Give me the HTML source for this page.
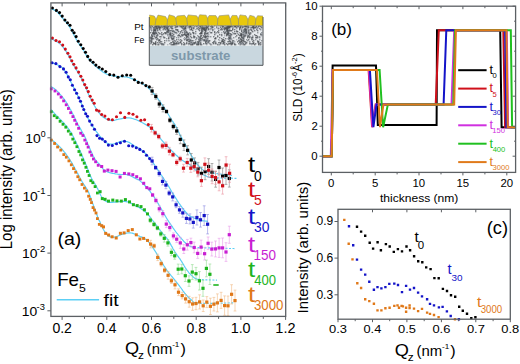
<!DOCTYPE html><html><head><meta charset="utf-8"><style>html,body{margin:0;padding:0;background:#fff;}svg{display:block;}text{font-family:"Liberation Sans", sans-serif;}</style></head><body>
<svg width="520" height="364" viewBox="0 0 520 364">
<rect width="520" height="364" fill="#fff"/>
<path d="M51.0,8.6 L51.4,8.8 L52.0,9.0 L52.6,9.3 L53.4,9.6 L54.2,9.9 L55.0,10.4 L55.8,10.9 L56.6,11.5 L57.4,12.2 L58.2,13.0 L59.0,13.9 L59.9,14.9 L60.7,15.9 L61.6,17.0 L62.5,18.0 L63.3,19.0 L64.1,20.0 L65.0,20.9 L65.8,21.9 L66.6,22.9 L67.4,23.9 L68.3,25.0 L69.1,26.2 L69.9,27.4 L70.7,28.8 L71.6,30.3 L72.4,31.9 L73.2,33.5 L74.0,35.2 L74.9,36.8 L75.7,38.3 L76.5,39.8 L77.3,41.2 L78.2,42.5 L79.0,43.8 L79.9,45.0 L80.7,46.2 L81.6,47.4 L82.4,48.6 L83.1,49.7 L83.8,50.8 L84.4,51.9 L85.1,53.0 L85.6,54.1 L86.2,55.1 L86.8,56.1 L87.4,57.1 L88.0,58.0 L88.6,58.8 L89.2,59.6 L89.8,60.3 L90.4,61.0 L91.0,61.7 L91.6,62.3 L92.3,63.0 L93.0,63.7 L93.7,64.4 L94.5,65.2 L95.3,65.9 L96.1,66.6 L96.9,67.4 L97.8,68.1 L98.7,68.8 L99.6,69.5 L100.6,70.2 L101.6,70.9 L102.6,71.7 L103.7,72.4 L104.8,73.1 L105.9,73.7 L107.0,74.3 L108.2,74.8 L109.4,75.2 L110.6,75.5 L111.8,75.7 L113.1,75.9 L114.3,76.1 L115.6,76.2 L116.9,76.4 L118.1,76.5 L119.3,76.6 L120.6,76.7 L121.8,76.7 L123.0,76.7 L124.3,76.8 L125.5,76.9 L126.8,77.0 L128.0,77.3 L129.3,77.7 L130.5,78.1 L131.8,78.6 L133.1,79.1 L134.3,79.7 L135.6,80.3 L136.8,80.9 L138.0,81.5 L139.2,82.1 L140.3,82.7 L141.4,83.2 L142.5,83.8 L143.6,84.5 L144.6,85.1 L145.6,85.8 L146.6,86.5 L147.5,87.2 L148.4,88.0 L149.2,88.8 L150.0,89.6 L150.8,90.4 L151.6,91.3 L152.4,92.2 L153.2,93.1 L154.0,94.0 L154.8,95.0 L155.7,96.0 L156.5,97.0 L157.3,98.1 L158.2,99.2 L159.0,100.3 L159.8,101.4 L160.6,102.6 L161.5,103.8 L162.3,105.1 L163.2,106.4 L164.0,107.6 L164.9,108.9 L165.7,110.1 L166.4,111.3 L167.1,112.4 L167.8,113.5 L168.4,114.5 L169.0,115.5 L169.6,116.6 L170.2,117.5 L170.8,118.5 L171.4,119.5 L172.0,120.5 L172.7,121.4 L173.3,122.4 L173.9,123.3 L174.6,124.2 L175.2,125.1 L175.7,126.1 L176.3,127.0 L176.8,128.0 L177.3,128.9 L177.7,129.8 L178.1,130.8 L178.6,131.8 L179.0,132.7 L179.5,133.8 L180.0,134.8 L180.6,135.9 L181.2,137.0 L181.8,138.1 L182.4,139.3 L183.1,140.5 L183.7,141.7 L184.4,142.8 L185.0,144.0 L185.6,145.2 L186.2,146.3 L186.9,147.5 L187.5,148.7 L188.1,149.9 L188.8,151.0 L189.4,152.1 L190.0,153.2 L190.6,154.3 L191.2,155.3 L191.9,156.3 L192.5,157.3 L193.1,158.2 L193.8,159.2 L194.4,160.1 L195.0,161.0 L195.6,161.9 L196.2,162.8 L196.9,163.6 L197.5,164.5 L198.1,165.3 L198.8,166.0 L199.4,166.7 L200.0,167.4 L200.6,168.0 L201.2,168.5 L201.9,169.0 L202.5,169.5 L203.1,169.9 L203.8,170.3 L204.4,170.7 L205.0,171.0 L205.6,171.3 L206.1,171.5 L206.7,171.7 L207.2,171.9 L207.8,172.0" stroke="#5ccff5" stroke-width="1.2" fill="none"/>
<path d="M206.1,171.5 L206.7,171.7 L207.2,171.9 L207.8,172.0 L208.4,172.2 L209.1,172.3 L210.0,172.5 L211.0,172.7 L212.1,172.9 L213.3,173.1 L214.6,173.2 L215.9,173.4 L217.2,173.6 L218.6,173.8 L220.0,174.0 L221.5,174.2 L223.1,174.4 L224.9,174.6 L226.6,174.8 L228.3,175.0 L229.8,175.2 L231.1,175.4 L232.0,175.5" stroke="#5ccff5" stroke-width="1.2" fill="none" stroke-dasharray="2,1.5"/>
<path d="M51.0,38.5 L51.7,38.9 L52.7,39.4 L53.8,40.0 L55.1,40.7 L56.4,41.4 L57.7,42.2 L58.9,43.0 L60.0,43.9 L60.9,44.8 L61.8,45.7 L62.7,46.6 L63.4,47.6 L64.2,48.7 L65.0,49.8 L65.8,50.9 L66.6,52.2 L67.4,53.6 L68.3,55.1 L69.1,56.7 L70.0,58.4 L70.8,60.1 L71.7,61.7 L72.5,63.2 L73.2,64.6 L73.9,65.8 L74.6,66.9 L75.2,68.0 L75.8,68.9 L76.4,69.9 L77.0,70.8 L77.6,71.8 L78.2,72.8 L78.8,73.8 L79.4,74.8 L79.9,75.8 L80.5,76.8 L81.1,77.8 L81.7,79.0 L82.3,80.2 L83.0,81.6 L83.7,83.2 L84.6,85.0 L85.4,87.0 L86.3,89.0 L87.2,91.0 L88.0,93.0 L88.8,94.9 L89.6,96.5 L90.3,98.0 L91.0,99.3 L91.6,100.5 L92.2,101.7 L92.8,102.8 L93.4,103.9 L94.0,104.9 L94.6,106.0 L95.3,107.1 L95.9,108.2 L96.6,109.3 L97.3,110.3 L98.0,111.3 L98.7,112.3 L99.3,113.2 L100.0,114.0 L100.6,114.7 L101.2,115.4 L101.8,115.9 L102.4,116.5 L103.0,116.9 L103.6,117.4 L104.2,117.8 L104.9,118.2 L105.6,118.6 L106.4,119.0 L107.2,119.4 L108.0,119.8 L108.8,120.1 L109.7,120.3 L110.6,120.5 L111.5,120.6 L112.5,120.6 L113.5,120.5 L114.5,120.3 L115.5,120.0 L116.6,119.7 L117.7,119.5 L118.8,119.2 L119.8,119.0 L120.8,118.8 L121.9,118.6 L122.9,118.4 L123.9,118.2 L124.9,118.0 L125.9,117.9 L127.0,117.8 L128.0,117.8 L129.0,117.9 L130.1,118.0 L131.1,118.2 L132.2,118.5 L133.2,118.8 L134.2,119.1 L135.3,119.4 L136.3,119.8 L137.3,120.2 L138.3,120.6 L139.4,121.1 L140.4,121.6 L141.4,122.1 L142.4,122.7 L143.5,123.3 L144.5,123.9 L145.6,124.5 L146.6,125.2 L147.7,125.9 L148.8,126.6 L149.9,127.3 L151.0,128.2 L152.1,129.0 L153.2,130.0 L154.3,131.1 L155.3,132.2 L156.3,133.5 L157.4,134.8 L158.4,136.1 L159.4,137.4 L160.5,138.7 L161.5,139.9 L162.6,141.1 L163.7,142.3 L164.8,143.6 L166.0,144.8 L167.1,145.9 L168.1,147.0 L169.1,148.1 L170.0,149.0 L170.8,149.8 L171.5,150.5 L172.1,151.2 L172.7,151.8 L173.3,152.3 L173.8,152.9 L174.4,153.4 L175.0,154.0 L175.6,154.6 L176.2,155.2 L176.9,155.8 L177.5,156.3 L178.1,156.9 L178.8,157.5 L179.4,158.0 L180.0,158.5 L180.6,159.0 L181.2,159.5 L181.9,159.9 L182.5,160.4 L183.1,160.8 L183.8,161.2 L184.4,161.6 L185.0,162.0 L185.6,162.4 L186.2,162.7 L186.9,163.0 L187.5,163.3 L188.1,163.6 L188.8,164.0 L189.4,164.4 L190.0,164.8 L190.6,165.3 L191.2,165.9 L191.9,166.5 L192.5,167.1 L193.1,167.7 L193.8,168.4 L194.4,169.0 L195.0,169.5 L195.6,170.0 L196.2,170.5 L196.9,171.0 L197.5,171.4 L198.1,171.9 L198.8,172.3 L199.4,172.7 L200.0,173.1 L200.6,173.5 L201.2,173.8 L201.9,174.1 L202.5,174.4 L203.1,174.7 L203.8,175.0 L204.4,175.2 L205.0,175.5 L205.6,175.8 L206.1,176.0 L206.7,176.3 L207.2,176.5 L207.8,176.7 L208.4,176.9 L209.1,177.1 L210.0,177.3 L211.0,177.4 L212.0,177.6" stroke="#5ccff5" stroke-width="1.2" fill="none"/>
<path d="M210.0,177.3 L211.0,177.4 L212.0,177.6 L213.1,177.7 L214.2,177.7 L215.5,177.8 L216.9,177.9 L218.4,177.9 L220.0,178.0 L221.9,178.1 L224.2,178.1 L226.6,178.2 L229.1,178.2 L231.6,178.2 L233.8,178.3 L235.6,178.3 L237.0,178.3" stroke="#5ccff5" stroke-width="1.2" fill="none" stroke-dasharray="2,1.5"/>
<path d="M51.0,62.2 L51.7,62.5 L52.7,62.9 L53.9,63.4 L55.2,63.9 L56.5,64.5 L57.8,65.0 L59.0,65.6 L60.0,66.2 L60.8,66.8 L61.5,67.3 L62.2,67.8 L62.8,68.4 L63.3,69.0 L63.9,69.7 L64.4,70.4 L65.0,71.2 L65.6,72.1 L66.2,73.1 L66.8,74.1 L67.4,75.2 L68.0,76.4 L68.6,77.6 L69.2,78.7 L69.8,79.9 L70.4,81.1 L71.0,82.3 L71.7,83.5 L72.3,84.8 L72.9,86.0 L73.6,87.3 L74.2,88.6 L74.8,89.8 L75.4,91.0 L76.0,92.2 L76.6,93.4 L77.3,94.6 L77.9,95.9 L78.5,97.1 L79.1,98.4 L79.7,99.7 L80.3,101.1 L80.9,102.5 L81.6,104.0 L82.2,105.5 L82.8,107.0 L83.5,108.5 L84.1,109.9 L84.7,111.3 L85.3,112.6 L85.9,113.9 L86.5,115.2 L87.1,116.4 L87.7,117.7 L88.3,118.9 L89.0,120.0 L89.6,121.2 L90.2,122.3 L90.9,123.4 L91.5,124.5 L92.2,125.5 L92.9,126.6 L93.6,127.6 L94.3,128.7 L95.0,129.7 L95.8,130.8 L96.6,131.8 L97.4,132.9 L98.2,134.0 L99.1,135.1 L99.9,136.1 L100.8,137.1 L101.6,138.0 L102.4,138.9 L103.2,139.7 L104.1,140.6 L104.9,141.4 L105.7,142.1 L106.5,142.7 L107.4,143.3 L108.2,143.7 L109.0,144.0 L109.9,144.2 L110.7,144.2 L111.5,144.2 L112.3,144.1 L113.2,144.0 L114.0,143.9 L114.8,143.7 L115.6,143.5 L116.5,143.2 L117.3,142.8 L118.1,142.5 L118.9,142.1 L119.7,141.7 L120.6,141.5 L121.4,141.3 L122.2,141.2 L123.0,141.2 L123.8,141.1 L124.6,141.2 L125.4,141.3 L126.2,141.5 L127.1,141.7 L128.0,142.0 L129.0,142.4 L130.1,143.0 L131.2,143.7 L132.3,144.4 L133.4,145.2 L134.5,145.9 L135.5,146.5 L136.3,147.0 L137.0,147.4 L137.5,147.6 L137.9,147.8 L138.3,147.9 L138.6,148.0 L139.0,148.2 L139.4,148.5 L140.0,148.9 L140.7,149.4 L141.4,150.0 L142.3,150.7 L143.1,151.4 L144.0,152.2 L144.9,153.0 L145.8,153.8 L146.6,154.7 L147.4,155.6 L148.2,156.6 L149.1,157.6 L149.9,158.6 L150.7,159.7 L151.5,160.8 L152.4,161.9 L153.2,163.0 L154.0,164.2 L154.8,165.4 L155.7,166.6 L156.5,167.9 L157.3,169.1 L158.2,170.4 L159.0,171.7 L159.8,172.9 L160.6,174.1 L161.4,175.3 L162.2,176.4 L163.0,177.6 L163.8,178.8 L164.6,180.1 L165.5,181.4 L166.4,182.8 L167.4,184.4 L168.4,186.0 L169.5,187.8 L170.6,189.7 L171.6,191.5 L172.7,193.3 L173.7,194.9 L174.7,196.5 L175.6,197.9 L176.5,199.3 L177.3,200.6 L178.1,201.8 L178.9,203.0 L179.7,204.1 L180.5,205.3 L181.3,206.4 L182.1,207.5 L183.0,208.7 L183.9,209.9 L184.8,211.0 L185.6,212.0 L186.5,213.0 L187.2,213.9 L187.9,214.6 L188.5,215.2 L189.0,215.6 L189.4,215.8 L189.8,216.0 L190.1,216.2 L190.5,216.3 L191.0,216.5 L191.6,216.8 L192.3,217.1 L193.0,217.5 L193.7,217.9 L194.5,218.3 L195.4,218.7 L196.3,219.1 L197.2,219.5 L198.2,219.8 L199.3,220.1 L200.7,220.3 L202.1,220.6 L203.5,220.8 L204.9,221.0 L206.2,221.1 L207.2,221.3 L208.0,221.4" stroke="#5ccff5" stroke-width="1.2" fill="none"/>
<path d="M51.0,86.5 L51.4,86.8 L52.0,87.2 L52.6,87.6 L53.4,88.1 L54.2,88.6 L55.0,89.2 L55.8,89.9 L56.6,90.6 L57.4,91.4 L58.2,92.2 L59.1,93.1 L59.9,94.1 L60.8,95.1 L61.6,96.1 L62.4,97.0 L63.2,98.0 L63.9,98.9 L64.6,99.8 L65.2,100.7 L65.8,101.6 L66.4,102.6 L67.0,103.5 L67.6,104.5 L68.2,105.5 L68.8,106.6 L69.4,107.6 L70.0,108.8 L70.7,109.9 L71.3,111.1 L71.9,112.2 L72.5,113.4 L73.1,114.6 L73.7,115.8 L74.3,117.0 L74.9,118.2 L75.4,119.4 L76.0,120.6 L76.6,121.9 L77.3,123.2 L78.0,124.5 L78.8,125.9 L79.6,127.4 L80.5,128.9 L81.3,130.4 L82.2,132.0 L83.1,133.6 L83.9,135.1 L84.7,136.6 L85.4,138.1 L86.0,139.5 L86.7,141.0 L87.3,142.5 L87.8,143.9 L88.4,145.3 L89.0,146.7 L89.6,148.1 L90.2,149.5 L90.8,150.9 L91.5,152.3 L92.1,153.6 L92.7,154.9 L93.3,156.2 L94.0,157.4 L94.6,158.5 L95.3,159.5 L95.9,160.4 L96.6,161.3 L97.3,162.0 L98.0,162.8 L98.7,163.5 L99.3,164.3 L100.0,165.0 L100.6,165.8 L101.2,166.5 L101.8,167.3 L102.4,168.1 L103.0,168.8 L103.6,169.4 L104.2,170.1 L104.9,170.6 L105.6,171.1 L106.4,171.5 L107.2,171.8 L108.0,172.1 L108.8,172.4 L109.7,172.6 L110.6,172.9 L111.5,173.1 L112.5,173.3 L113.5,173.5 L114.5,173.7 L115.5,173.9 L116.6,174.0 L117.7,174.2 L118.8,174.3 L119.8,174.4 L120.8,174.5 L121.9,174.5 L122.9,174.5 L123.9,174.4 L124.9,174.4 L125.9,174.5 L127.0,174.6 L128.0,174.8 L129.1,175.2 L130.2,175.6 L131.3,176.2 L132.4,176.8 L133.5,177.4 L134.5,177.9 L135.5,178.5 L136.3,178.9 L137.0,179.2 L137.5,179.4 L137.9,179.6 L138.3,179.7 L138.6,179.8 L139.0,180.0 L139.4,180.4 L140.0,180.8 L140.7,181.4 L141.4,182.1 L142.3,182.9 L143.1,183.7 L144.0,184.6 L144.9,185.5 L145.8,186.5 L146.6,187.4 L147.4,188.3 L148.2,189.3 L149.1,190.2 L149.9,191.2 L150.7,192.3 L151.5,193.3 L152.4,194.4 L153.2,195.6 L154.0,196.8 L154.8,198.1 L155.7,199.4 L156.5,200.8 L157.3,202.2 L158.2,203.6 L159.0,205.0 L159.8,206.4 L160.6,207.8 L161.5,209.3 L162.3,210.7 L163.1,212.2 L163.9,213.7 L164.8,215.1 L165.6,216.5 L166.4,217.9 L167.2,219.2 L168.1,220.6 L168.9,221.9 L169.8,223.2 L170.6,224.4 L171.5,225.6 L172.3,226.7 L173.0,227.8 L173.7,228.8 L174.3,229.7 L174.9,230.5 L175.5,231.3 L176.0,232.0 L176.6,232.8 L177.3,233.6 L178.0,234.5 L178.8,235.5 L179.6,236.5 L180.5,237.6 L181.4,238.7 L182.3,239.7 L183.2,240.7 L184.1,241.7 L185.0,242.5 L185.8,243.2 L186.5,243.9 L187.2,244.5 L187.9,245.1 L188.7,245.6 L189.5,246.0 L190.5,246.4 L191.6,246.8 L192.8,247.1 L194.0,247.3" stroke="#5ccff5" stroke-width="1.2" fill="none"/>
<path d="M194.0,247.3 L195.3,247.4 L196.7,247.5 L198.2,247.6 L200.1,247.6 L202.2,247.7 L204.8,247.8 L208.1,247.9 L212.1,248.0 L216.6,248.1 L221.2,248.3 L225.8,248.4 L230.0,248.5 L233.5,248.5 L236.0,248.6" stroke="#5ccff5" stroke-width="1.2" fill="none" stroke-dasharray="2,1.5"/>
<path d="M51.0,109.6 L51.6,110.2 L52.3,111.0 L53.2,112.0 L54.2,113.1 L55.3,114.3 L56.3,115.4 L57.4,116.5 L58.3,117.5 L59.2,118.4 L60.0,119.3 L60.9,120.1 L61.7,120.9 L62.5,121.8 L63.4,122.6 L64.2,123.5 L65.0,124.5 L65.8,125.5 L66.7,126.5 L67.5,127.6 L68.4,128.7 L69.2,129.8 L70.0,131.0 L70.8,132.1 L71.5,133.3 L72.2,134.5 L72.8,135.7 L73.5,136.9 L74.0,138.1 L74.6,139.4 L75.2,140.6 L75.8,141.9 L76.4,143.2 L77.0,144.5 L77.6,145.8 L78.3,147.1 L78.9,148.4 L79.5,149.8 L80.2,151.1 L80.8,152.5 L81.4,153.9 L82.0,155.3 L82.6,156.7 L83.2,158.1 L83.9,159.5 L84.5,161.0 L85.1,162.4 L85.7,163.9 L86.3,165.4 L86.9,166.9 L87.5,168.5 L88.2,170.1 L88.8,171.8 L89.4,173.4 L90.0,174.9 L90.7,176.4 L91.3,177.8 L91.9,179.1 L92.6,180.2 L93.2,181.3 L93.9,182.4 L94.6,183.4 L95.2,184.4 L95.9,185.5 L96.5,186.6 L97.1,187.8 L97.8,189.1 L98.4,190.5 L99.0,191.8 L99.6,193.1 L100.2,194.4 L100.8,195.5 L101.4,196.5 L102.0,197.4 L102.5,198.1 L103.1,198.8 L103.6,199.5 L104.2,200.0 L104.8,200.5 L105.4,200.9 L106.0,201.3 L106.7,201.6 L107.4,201.9 L108.1,202.0 L108.8,202.2 L109.5,202.2 L110.3,202.3 L111.1,202.3 L112.0,202.3 L112.9,202.3 L113.9,202.2 L114.9,202.1 L115.9,201.9 L116.9,201.8 L118.0,201.7 L119.0,201.6 L120.0,201.5 L121.0,201.5 L122.0,201.4 L123.0,201.4 L124.0,201.4 L125.0,201.5 L126.0,201.6 L127.0,201.8 L128.0,202.0 L129.1,202.4 L130.2,202.8 L131.3,203.4 L132.4,204.0 L133.5,204.6 L134.5,205.1 L135.5,205.7 L136.3,206.1 L137.0,206.4 L137.5,206.7 L137.9,206.8 L138.3,207.0 L138.6,207.2 L139.0,207.4 L139.4,207.6 L140.0,208.0 L140.7,208.5 L141.4,209.0 L142.3,209.5 L143.1,210.1 L144.0,210.8 L144.9,211.5 L145.8,212.2 L146.6,213.0 L147.4,213.9 L148.2,214.8 L149.0,215.7 L149.8,216.7 L150.6,217.8 L151.4,218.9 L152.3,220.0 L153.2,221.2 L154.2,222.4 L155.2,223.8 L156.3,225.2 L157.4,226.6 L158.4,228.0 L159.5,229.4 L160.5,230.8 L161.5,232.0 L162.4,233.1 L163.2,234.1 L164.1,235.0 L164.8,235.9 L165.6,236.8 L166.4,237.7 L167.2,238.8 L168.0,239.9 L168.8,241.2 L169.7,242.6 L170.5,244.1 L171.3,245.6 L172.2,247.1 L173.0,248.7 L173.9,250.1 L174.7,251.5 L175.5,252.8 L176.4,254.0 L177.2,255.3 L178.1,256.4 L178.9,257.6 L179.8,258.7 L180.5,259.9 L181.3,261.0 L182.0,262.1 L182.7,263.3 L183.4,264.4 L184.0,265.5 L184.6,266.5 L185.2,267.6 L185.9,268.6 L186.5,269.5 L187.1,270.4 L187.8,271.2 L188.4,272.0 L189.0,272.8 L189.6,273.5 L190.3,274.2 L191.0,274.9 L191.7,275.5 L192.4,276.1 L193.0,276.7 L193.6,277.2 L194.2,277.7 L194.9,278.2 L195.9,278.6 L197.0,279.0 L198.4,279.3" stroke="#5ccff5" stroke-width="1.2" fill="none"/>
<path d="M198.4,279.3 L200.3,279.5 L202.6,279.7 L205.3,279.9 L208.1,279.9 L210.9,280.0 L213.4,280.0 L215.5,280.1 L217.0,280.1" stroke="#5ccff5" stroke-width="1.2" fill="none" stroke-dasharray="2,1.5"/>
<path d="M51.0,139.0 L51.4,139.4 L52.0,139.9 L52.6,140.4 L53.4,141.1 L54.2,141.8 L55.0,142.5 L55.8,143.3 L56.6,144.0 L57.4,144.7 L58.2,145.5 L59.0,146.2 L59.8,147.0 L60.7,147.9 L61.5,148.7 L62.4,149.6 L63.2,150.6 L64.0,151.6 L64.9,152.6 L65.7,153.7 L66.5,154.8 L67.3,156.0 L68.2,157.2 L69.0,158.4 L69.8,159.7 L70.6,161.0 L71.5,162.4 L72.3,163.9 L73.2,165.4 L74.0,166.9 L74.8,168.4 L75.6,169.8 L76.4,171.2 L77.1,172.5 L77.9,173.9 L78.5,175.2 L79.2,176.4 L79.9,177.7 L80.6,179.0 L81.3,180.2 L82.0,181.5 L82.8,182.8 L83.5,184.0 L84.3,185.2 L85.1,186.4 L85.9,187.6 L86.7,188.9 L87.5,190.2 L88.2,191.6 L88.9,193.1 L89.5,194.7 L90.2,196.3 L90.8,198.0 L91.4,199.7 L92.0,201.4 L92.6,203.1 L93.2,204.8 L93.8,206.5 L94.5,208.3 L95.2,210.2 L95.8,212.0 L96.5,213.7 L97.1,215.3 L97.6,216.8 L98.1,218.0 L98.5,218.9 L98.7,219.5 L98.9,220.0 L99.1,220.3 L99.3,220.6 L99.4,220.9 L99.7,221.3 L100.0,222.0 L100.4,222.9 L100.8,223.9 L101.3,225.0 L101.8,226.1 L102.3,227.3 L102.9,228.5 L103.4,229.5 L104.0,230.5 L104.6,231.4 L105.2,232.3 L105.8,233.1 L106.4,233.9 L107.0,234.6 L107.7,235.3 L108.3,235.8 L109.0,236.3 L109.7,236.7 L110.4,236.9 L111.1,237.1 L111.8,237.2 L112.5,237.2 L113.3,237.2 L114.1,237.1 L115.0,237.0 L115.9,236.8 L117.0,236.4 L118.0,236.0 L119.1,235.5 L120.3,235.0 L121.4,234.5 L122.5,234.1 L123.5,233.8 L124.5,233.6 L125.5,233.4 L126.5,233.2 L127.5,233.0 L128.5,232.9 L129.4,232.9 L130.4,232.9 L131.3,233.0 L132.2,233.2 L133.0,233.4 L133.8,233.7 L134.6,234.0 L135.4,234.4 L136.2,234.8 L137.1,235.2 L138.0,235.6 L139.0,236.0 L140.1,236.5 L141.2,236.9 L142.3,237.4 L143.4,237.9 L144.5,238.5 L145.6,239.2 L146.6,239.9 L147.5,240.7 L148.4,241.6 L149.2,242.6 L150.0,243.7 L150.8,244.7 L151.6,245.9 L152.4,247.0 L153.2,248.2 L154.0,249.4 L154.8,250.7 L155.7,252.0 L156.5,253.4 L157.3,254.8 L158.2,256.2 L159.0,257.5 L159.8,258.9 L160.6,260.3 L161.5,261.6 L162.3,263.0 L163.1,264.4 L163.9,265.8 L164.8,267.1 L165.6,268.4 L166.4,269.6 L167.2,270.8 L168.1,271.8 L168.9,272.9 L169.7,273.9 L170.5,274.9 L171.3,275.9 L172.2,276.9 L173.0,277.9 L173.8,278.9 L174.7,280.0 L175.5,281.0 L176.4,282.1 L177.2,283.1 L178.0,284.1 L178.8,285.1 L179.6,286.1 L180.3,287.1 L181.0,288.0 L181.7,289.0 L182.3,289.9 L182.9,290.8 L183.6,291.7 L184.3,292.6 L185.0,293.5 L185.8,294.4 L186.6,295.3 L187.4,296.2 L188.3,297.1 L189.1,298.0 L190.0,298.8 L190.9,299.5 L191.7,300.2 L192.3,300.8 L192.7,301.3 L192.9,301.7 L193.2,302.1 L193.8,302.5 L194.7,302.8 L196.2,303.0" stroke="#5ccff5" stroke-width="1.2" fill="none"/>
<path d="M196.2,303.0 L198.4,303.2 L201.7,303.3 L206.1,303.3 L211.2,303.3 L216.6,303.2 L222.0,303.1 L226.9,303.0 L231.1,302.9 L234.0,302.9" stroke="#5ccff5" stroke-width="1.2" fill="none" stroke-dasharray="2,1.5"/>
<circle cx="52.4" cy="8.0" r="1.55" fill="#000000"/>
<circle cx="56.4" cy="10.4" r="1.55" fill="#000000"/>
<circle cx="59.5" cy="12.6" r="1.55" fill="#000000"/>
<circle cx="62.2" cy="16.1" r="1.55" fill="#000000"/>
<circle cx="64.9" cy="20.0" r="1.55" fill="#000000"/>
<circle cx="67.5" cy="22.8" r="1.55" fill="#000000"/>
<circle cx="70.0" cy="25.2" r="1.55" fill="#000000"/>
<circle cx="72.2" cy="30.2" r="1.55" fill="#000000"/>
<circle cx="74.1" cy="32.7" r="1.55" fill="#000000"/>
<circle cx="76.1" cy="36.6" r="1.55" fill="#000000"/>
<circle cx="78.3" cy="41.2" r="1.55" fill="#000000"/>
<circle cx="80.8" cy="44.8" r="1.55" fill="#000000"/>
<circle cx="83.2" cy="48.5" r="1.55" fill="#000000"/>
<circle cx="85.5" cy="52.3" r="1.55" fill="#000000"/>
<circle cx="87.7" cy="56.4" r="1.55" fill="#000000"/>
<circle cx="90.2" cy="60.1" r="1.55" fill="#000000"/>
<circle cx="93.1" cy="62.3" r="1.55" fill="#000000"/>
<circle cx="95.9" cy="65.1" r="1.55" fill="#000000"/>
<circle cx="99.0" cy="67.3" r="1.55" fill="#000000"/>
<circle cx="102.3" cy="69.0" r="1.55" fill="#000000"/>
<circle cx="105.8" cy="71.5" r="1.55" fill="#000000"/>
<circle cx="109.7" cy="74.6" r="1.55" fill="#000000"/>
<circle cx="113.8" cy="75.1" r="1.55" fill="#000000"/>
<circle cx="118.0" cy="77.2" r="1.55" fill="#000000"/>
<circle cx="122.3" cy="75.7" r="1.55" fill="#000000"/>
<circle cx="126.7" cy="75.0" r="1.55" fill="#000000"/>
<circle cx="130.7" cy="75.2" r="1.55" fill="#000000"/>
<circle cx="134.5" cy="79.8" r="1.55" fill="#000000"/>
<circle cx="138.3" cy="82.4" r="1.55" fill="#000000"/>
<circle cx="142.2" cy="83.0" r="1.55" fill="#000000"/>
<circle cx="145.9" cy="85.6" r="1.55" fill="#000000"/>
<circle cx="149.4" cy="86.9" r="1.55" fill="#000000"/>
<path d="M152.1,87.4V94.6M150.7,87.4h2.8M150.7,94.6h2.8" stroke="#808080" stroke-width="0.6" fill="none"/>
<rect x="150.5" y="89.4" width="3.2" height="3.2" fill="#000000"/>
<path d="M155.8,93.9V99.2M154.4,93.9h2.8M154.4,99.2h2.8" stroke="#808080" stroke-width="0.6" fill="none"/>
<rect x="154.2" y="94.9" width="3.2" height="3.2" fill="#000000"/>
<path d="M159.3,100.9V107.2M157.9,100.9h2.8M157.9,107.2h2.8" stroke="#808080" stroke-width="0.6" fill="none"/>
<rect x="157.7" y="102.4" width="3.2" height="3.2" fill="#000000"/>
<path d="M163.0,104.8V111.9M161.6,104.8h2.8M161.6,111.9h2.8" stroke="#808080" stroke-width="0.6" fill="none"/>
<rect x="161.4" y="106.8" width="3.2" height="3.2" fill="#000000"/>
<path d="M166.5,110.0V113.1M165.1,110.0h2.8M165.1,113.1h2.8" stroke="#808080" stroke-width="0.6" fill="none"/>
<rect x="164.9" y="109.9" width="3.2" height="3.2" fill="#000000"/>
<path d="M169.9,118.0V122.3M168.5,118.0h2.8M168.5,122.3h2.8" stroke="#808080" stroke-width="0.6" fill="none"/>
<rect x="168.3" y="118.6" width="3.2" height="3.2" fill="#000000"/>
<path d="M173.3,124.1V128.9M171.9,124.1h2.8M171.9,128.9h2.8" stroke="#808080" stroke-width="0.6" fill="none"/>
<rect x="171.7" y="124.9" width="3.2" height="3.2" fill="#000000"/>
<path d="M176.7,127.5V134.4M175.3,127.5h2.8M175.3,134.4h2.8" stroke="#808080" stroke-width="0.6" fill="none"/>
<rect x="175.1" y="129.4" width="3.2" height="3.2" fill="#000000"/>
<path d="M180.3,135.2V143.7M178.9,135.2h2.8M178.9,143.7h2.8" stroke="#808080" stroke-width="0.6" fill="none"/>
<rect x="178.7" y="137.8" width="3.2" height="3.2" fill="#000000"/>
<path d="M184.0,139.9V150.6M182.6,139.9h2.8M182.6,150.6h2.8" stroke="#808080" stroke-width="0.6" fill="none"/>
<rect x="182.4" y="143.7" width="3.2" height="3.2" fill="#000000"/>
<path d="M187.6,145.7V154.9M186.2,145.7h2.8M186.2,154.9h2.8" stroke="#808080" stroke-width="0.6" fill="none"/>
<rect x="186.0" y="148.7" width="3.2" height="3.2" fill="#000000"/>
<path d="M191.3,153.5V166.5M189.9,153.5h2.8M189.9,166.5h2.8" stroke="#808080" stroke-width="0.6" fill="none"/>
<rect x="189.7" y="158.4" width="3.2" height="3.2" fill="#000000"/>
<path d="M194.6,157.9V168.1M193.2,157.9h2.8M193.2,168.1h2.8" stroke="#808080" stroke-width="0.6" fill="none"/>
<rect x="193.0" y="161.4" width="3.2" height="3.2" fill="#000000"/>
<path d="M198.1,162.4V175.1M196.7,162.4h2.8M196.7,175.1h2.8" stroke="#808080" stroke-width="0.6" fill="none"/>
<rect x="196.5" y="167.1" width="3.2" height="3.2" fill="#000000"/>
<path d="M201.5,167.2V179.6M200.1,167.2h2.8M200.1,179.6h2.8" stroke="#808080" stroke-width="0.6" fill="none"/>
<rect x="199.9" y="171.8" width="3.2" height="3.2" fill="#000000"/>
<path d="M205.1,163.5V179.7M203.7,163.5h2.8M203.7,179.7h2.8" stroke="#808080" stroke-width="0.6" fill="none"/>
<rect x="203.5" y="170.0" width="3.2" height="3.2" fill="#000000"/>
<path d="M208.6,158.7V174.3M207.2,158.7h2.8M207.2,174.3h2.8" stroke="#808080" stroke-width="0.6" fill="none"/>
<rect x="207.0" y="164.9" width="3.2" height="3.2" fill="#000000"/>
<path d="M212.0,163.5V181.0M210.6,163.5h2.8M210.6,181.0h2.8" stroke="#808080" stroke-width="0.6" fill="none"/>
<rect x="210.4" y="170.6" width="3.2" height="3.2" fill="#000000"/>
<path d="M215.6,171.5V187.2M214.2,171.5h2.8M214.2,187.2h2.8" stroke="#808080" stroke-width="0.6" fill="none"/>
<rect x="214.0" y="177.8" width="3.2" height="3.2" fill="#000000"/>
<path d="M219.0,160.0V175.0M217.6,160.0h2.8M217.6,175.0h2.8" stroke="#808080" stroke-width="0.6" fill="none"/>
<rect x="217.4" y="165.9" width="3.2" height="3.2" fill="#000000"/>
<path d="M222.6,168.0V184.3M221.2,168.0h2.8M221.2,184.3h2.8" stroke="#808080" stroke-width="0.6" fill="none"/>
<rect x="221.0" y="174.6" width="3.2" height="3.2" fill="#000000"/>
<path d="M226.0,166.7V184.4M224.6,166.7h2.8M224.6,184.4h2.8" stroke="#808080" stroke-width="0.6" fill="none"/>
<rect x="224.4" y="173.9" width="3.2" height="3.2" fill="#000000"/>
<path d="M229.3,169.8V187.1M227.9,169.8h2.8M227.9,187.1h2.8" stroke="#808080" stroke-width="0.6" fill="none"/>
<rect x="227.7" y="176.9" width="3.2" height="3.2" fill="#000000"/>
<circle cx="52.4" cy="38.1" r="1.55" fill="#d0101a"/>
<circle cx="56.0" cy="40.5" r="1.55" fill="#d0101a"/>
<circle cx="59.5" cy="41.8" r="1.55" fill="#d0101a"/>
<circle cx="62.7" cy="45.1" r="1.55" fill="#d0101a"/>
<circle cx="65.3" cy="49.1" r="1.55" fill="#d0101a"/>
<circle cx="67.9" cy="53.3" r="1.55" fill="#d0101a"/>
<circle cx="70.0" cy="56.7" r="1.55" fill="#d0101a"/>
<circle cx="71.8" cy="60.7" r="1.55" fill="#d0101a"/>
<circle cx="73.8" cy="64.3" r="1.55" fill="#d0101a"/>
<circle cx="76.1" cy="67.9" r="1.55" fill="#d0101a"/>
<circle cx="78.6" cy="72.1" r="1.55" fill="#d0101a"/>
<circle cx="80.9" cy="76.2" r="1.55" fill="#d0101a"/>
<circle cx="82.8" cy="80.0" r="1.55" fill="#d0101a"/>
<circle cx="84.7" cy="84.6" r="1.55" fill="#d0101a"/>
<circle cx="86.6" cy="87.8" r="1.55" fill="#d0101a"/>
<circle cx="88.3" cy="91.6" r="1.55" fill="#d0101a"/>
<circle cx="90.2" cy="96.3" r="1.55" fill="#d0101a"/>
<circle cx="92.2" cy="100.1" r="1.55" fill="#d0101a"/>
<circle cx="94.2" cy="103.2" r="1.55" fill="#d0101a"/>
<circle cx="96.5" cy="110.1" r="1.55" fill="#d0101a"/>
<circle cx="99.0" cy="111.0" r="1.55" fill="#d0101a"/>
<circle cx="101.7" cy="114.5" r="1.55" fill="#d0101a"/>
<circle cx="104.9" cy="116.1" r="1.55" fill="#d0101a"/>
<circle cx="108.5" cy="119.2" r="1.55" fill="#d0101a"/>
<circle cx="112.4" cy="119.8" r="1.55" fill="#d0101a"/>
<circle cx="116.5" cy="116.7" r="1.55" fill="#d0101a"/>
<circle cx="120.5" cy="112.8" r="1.55" fill="#d0101a"/>
<circle cx="124.8" cy="117.4" r="1.55" fill="#d0101a"/>
<circle cx="128.9" cy="113.3" r="1.55" fill="#d0101a"/>
<circle cx="133.0" cy="114.3" r="1.55" fill="#d0101a"/>
<circle cx="136.9" cy="116.7" r="1.55" fill="#d0101a"/>
<circle cx="140.9" cy="120.3" r="1.55" fill="#d0101a"/>
<circle cx="144.6" cy="119.8" r="1.55" fill="#d0101a"/>
<circle cx="148.3" cy="124.6" r="1.55" fill="#d0101a"/>
<path d="M151.5,124.4V132.0M150.1,124.4h2.8M150.1,132.0h2.8" stroke="#eb93a0" stroke-width="0.6" fill="none"/>
<rect x="149.9" y="126.6" width="3.2" height="3.2" fill="#d0101a"/>
<path d="M155.1,131.0V134.9M153.7,131.0h2.8M153.7,134.9h2.8" stroke="#eb93a0" stroke-width="0.6" fill="none"/>
<rect x="153.5" y="131.3" width="3.2" height="3.2" fill="#d0101a"/>
<path d="M158.7,134.2V138.9M157.3,134.2h2.8M157.3,138.9h2.8" stroke="#eb93a0" stroke-width="0.6" fill="none"/>
<rect x="157.1" y="135.0" width="3.2" height="3.2" fill="#d0101a"/>
<path d="M162.4,143.4V148.4M161.0,143.4h2.8M161.0,148.4h2.8" stroke="#eb93a0" stroke-width="0.6" fill="none"/>
<rect x="160.8" y="144.3" width="3.2" height="3.2" fill="#d0101a"/>
<path d="M166.0,142.1V148.8M164.6,142.1h2.8M164.6,148.8h2.8" stroke="#eb93a0" stroke-width="0.6" fill="none"/>
<rect x="164.4" y="143.8" width="3.2" height="3.2" fill="#d0101a"/>
<path d="M169.4,147.4V154.9M168.0,147.4h2.8M168.0,154.9h2.8" stroke="#eb93a0" stroke-width="0.6" fill="none"/>
<rect x="167.8" y="149.6" width="3.2" height="3.2" fill="#d0101a"/>
<path d="M173.0,153.0V156.7M171.6,153.0h2.8M171.6,156.7h2.8" stroke="#eb93a0" stroke-width="0.6" fill="none"/>
<rect x="171.4" y="153.2" width="3.2" height="3.2" fill="#d0101a"/>
<path d="M176.7,159.8V165.0M175.3,159.8h2.8M175.3,165.0h2.8" stroke="#eb93a0" stroke-width="0.6" fill="none"/>
<rect x="175.1" y="160.8" width="3.2" height="3.2" fill="#d0101a"/>
<path d="M180.2,156.3V161.3M178.8,156.3h2.8M178.8,161.3h2.8" stroke="#eb93a0" stroke-width="0.6" fill="none"/>
<rect x="178.6" y="157.2" width="3.2" height="3.2" fill="#d0101a"/>
<path d="M183.5,164.3V172.1M182.1,164.3h2.8M182.1,172.1h2.8" stroke="#eb93a0" stroke-width="0.6" fill="none"/>
<rect x="181.9" y="166.6" width="3.2" height="3.2" fill="#d0101a"/>
<path d="M187.2,158.4V166.6M185.8,158.4h2.8M185.8,166.6h2.8" stroke="#eb93a0" stroke-width="0.6" fill="none"/>
<rect x="185.6" y="160.9" width="3.2" height="3.2" fill="#d0101a"/>
<path d="M190.8,164.1V172.4M189.4,164.1h2.8M189.4,172.4h2.8" stroke="#eb93a0" stroke-width="0.6" fill="none"/>
<rect x="189.2" y="166.6" width="3.2" height="3.2" fill="#d0101a"/>
<path d="M194.2,162.0V171.1M192.8,162.0h2.8M192.8,171.1h2.8" stroke="#eb93a0" stroke-width="0.6" fill="none"/>
<rect x="192.6" y="165.0" width="3.2" height="3.2" fill="#d0101a"/>
<path d="M197.8,167.4V176.8M196.4,167.4h2.8M196.4,176.8h2.8" stroke="#eb93a0" stroke-width="0.6" fill="none"/>
<rect x="196.2" y="170.5" width="3.2" height="3.2" fill="#d0101a"/>
<path d="M201.4,174.9V186.4M200.0,174.9h2.8M200.0,186.4h2.8" stroke="#eb93a0" stroke-width="0.6" fill="none"/>
<rect x="199.8" y="179.1" width="3.2" height="3.2" fill="#d0101a"/>
<path d="M204.9,157.9V170.6M203.5,157.9h2.8M203.5,170.6h2.8" stroke="#eb93a0" stroke-width="0.6" fill="none"/>
<rect x="203.3" y="162.7" width="3.2" height="3.2" fill="#d0101a"/>
<path d="M208.6,163.1V177.2M207.2,163.1h2.8M207.2,177.2h2.8" stroke="#eb93a0" stroke-width="0.6" fill="none"/>
<rect x="207.0" y="168.6" width="3.2" height="3.2" fill="#d0101a"/>
<path d="M212.1,169.0V183.7M210.7,169.0h2.8M210.7,183.7h2.8" stroke="#eb93a0" stroke-width="0.6" fill="none"/>
<rect x="210.5" y="174.8" width="3.2" height="3.2" fill="#d0101a"/>
<path d="M215.5,170.9V184.3M214.1,170.9h2.8M214.1,184.3h2.8" stroke="#eb93a0" stroke-width="0.6" fill="none"/>
<rect x="213.9" y="176.0" width="3.2" height="3.2" fill="#d0101a"/>
<path d="M219.1,173.0V190.8M217.7,173.0h2.8M217.7,190.8h2.8" stroke="#eb93a0" stroke-width="0.6" fill="none"/>
<rect x="217.5" y="180.3" width="3.2" height="3.2" fill="#d0101a"/>
<path d="M222.6,177.4V194.1M221.2,177.4h2.8M221.2,194.1h2.8" stroke="#eb93a0" stroke-width="0.6" fill="none"/>
<rect x="221.0" y="184.2" width="3.2" height="3.2" fill="#d0101a"/>
<path d="M226.1,156.7V173.3M224.7,156.7h2.8M224.7,173.3h2.8" stroke="#eb93a0" stroke-width="0.6" fill="none"/>
<rect x="224.5" y="163.4" width="3.2" height="3.2" fill="#d0101a"/>
<path d="M229.6,164.2V182.3M228.2,164.2h2.8M228.2,182.3h2.8" stroke="#eb93a0" stroke-width="0.6" fill="none"/>
<rect x="228.0" y="171.7" width="3.2" height="3.2" fill="#d0101a"/>
<circle cx="52.0" cy="62.7" r="1.55" fill="#1414c8"/>
<circle cx="55.9" cy="63.6" r="1.55" fill="#1414c8"/>
<circle cx="59.9" cy="66.6" r="1.55" fill="#1414c8"/>
<circle cx="63.5" cy="68.9" r="1.55" fill="#1414c8"/>
<circle cx="66.1" cy="72.2" r="1.55" fill="#1414c8"/>
<circle cx="68.3" cy="76.9" r="1.55" fill="#1414c8"/>
<circle cx="70.3" cy="79.7" r="1.55" fill="#1414c8"/>
<circle cx="72.4" cy="85.2" r="1.55" fill="#1414c8"/>
<circle cx="74.6" cy="89.7" r="1.55" fill="#1414c8"/>
<circle cx="76.6" cy="93.2" r="1.55" fill="#1414c8"/>
<circle cx="78.8" cy="97.8" r="1.55" fill="#1414c8"/>
<circle cx="80.5" cy="101.3" r="1.55" fill="#1414c8"/>
<circle cx="82.3" cy="106.0" r="1.55" fill="#1414c8"/>
<circle cx="83.8" cy="109.5" r="1.55" fill="#1414c8"/>
<circle cx="85.7" cy="113.8" r="1.55" fill="#1414c8"/>
<circle cx="87.5" cy="116.2" r="1.55" fill="#1414c8"/>
<circle cx="89.6" cy="121.1" r="1.55" fill="#1414c8"/>
<circle cx="92.0" cy="125.0" r="1.55" fill="#1414c8"/>
<circle cx="94.5" cy="129.3" r="1.55" fill="#1414c8"/>
<circle cx="97.0" cy="135.6" r="1.55" fill="#1414c8"/>
<circle cx="99.6" cy="138.2" r="1.55" fill="#1414c8"/>
<circle cx="102.3" cy="139.1" r="1.55" fill="#1414c8"/>
<circle cx="105.2" cy="141.6" r="1.55" fill="#1414c8"/>
<circle cx="108.4" cy="145.1" r="1.55" fill="#1414c8"/>
<circle cx="112.3" cy="145.5" r="1.55" fill="#1414c8"/>
<circle cx="116.5" cy="143.7" r="1.55" fill="#1414c8"/>
<circle cx="120.4" cy="142.7" r="1.55" fill="#1414c8"/>
<circle cx="124.5" cy="141.3" r="1.55" fill="#1414c8"/>
<circle cx="128.7" cy="145.8" r="1.55" fill="#1414c8"/>
<circle cx="132.6" cy="146.1" r="1.55" fill="#1414c8"/>
<circle cx="136.3" cy="147.8" r="1.55" fill="#1414c8"/>
<circle cx="139.8" cy="149.4" r="1.55" fill="#1414c8"/>
<circle cx="143.4" cy="151.5" r="1.55" fill="#1414c8"/>
<circle cx="146.5" cy="155.3" r="1.55" fill="#1414c8"/>
<circle cx="149.6" cy="158.6" r="1.55" fill="#1414c8"/>
<path d="M152.1,157.2V164.8M150.7,157.2h2.8M150.7,164.8h2.8" stroke="#8c8ce0" stroke-width="0.6" fill="none"/>
<rect x="150.5" y="159.4" width="3.2" height="3.2" fill="#1414c8"/>
<path d="M155.6,166.0V169.3M154.2,166.0h2.8M154.2,169.3h2.8" stroke="#8c8ce0" stroke-width="0.6" fill="none"/>
<rect x="154.0" y="166.0" width="3.2" height="3.2" fill="#1414c8"/>
<path d="M159.2,170.9V176.1M157.8,170.9h2.8M157.8,176.1h2.8" stroke="#8c8ce0" stroke-width="0.6" fill="none"/>
<rect x="157.6" y="171.9" width="3.2" height="3.2" fill="#1414c8"/>
<path d="M162.5,177.9V184.9M161.1,177.9h2.8M161.1,184.9h2.8" stroke="#8c8ce0" stroke-width="0.6" fill="none"/>
<rect x="160.9" y="179.8" width="3.2" height="3.2" fill="#1414c8"/>
<path d="M165.9,181.4V188.7M164.5,181.4h2.8M164.5,188.7h2.8" stroke="#8c8ce0" stroke-width="0.6" fill="none"/>
<rect x="164.3" y="183.5" width="3.2" height="3.2" fill="#1414c8"/>
<path d="M169.2,190.8V195.4M167.8,190.8h2.8M167.8,195.4h2.8" stroke="#8c8ce0" stroke-width="0.6" fill="none"/>
<rect x="167.6" y="191.5" width="3.2" height="3.2" fill="#1414c8"/>
<path d="M172.7,193.0V200.9M171.3,193.0h2.8M171.3,200.9h2.8" stroke="#8c8ce0" stroke-width="0.6" fill="none"/>
<rect x="171.1" y="195.3" width="3.2" height="3.2" fill="#1414c8"/>
<path d="M176.1,201.9V207.7M174.7,201.9h2.8M174.7,207.7h2.8" stroke="#8c8ce0" stroke-width="0.6" fill="none"/>
<rect x="174.5" y="203.2" width="3.2" height="3.2" fill="#1414c8"/>
<path d="M179.5,206.6V213.3M178.1,206.6h2.8M178.1,213.3h2.8" stroke="#8c8ce0" stroke-width="0.6" fill="none"/>
<rect x="177.9" y="208.3" width="3.2" height="3.2" fill="#1414c8"/>
<path d="M182.8,208.5V217.2M181.4,208.5h2.8M181.4,217.2h2.8" stroke="#8c8ce0" stroke-width="0.6" fill="none"/>
<rect x="181.2" y="211.3" width="3.2" height="3.2" fill="#1414c8"/>
<path d="M186.4,213.4V223.4M185.0,213.4h2.8M185.0,223.4h2.8" stroke="#8c8ce0" stroke-width="0.6" fill="none"/>
<rect x="184.8" y="216.8" width="3.2" height="3.2" fill="#1414c8"/>
<path d="M189.9,213.9V223.9M188.5,213.9h2.8M188.5,223.9h2.8" stroke="#8c8ce0" stroke-width="0.6" fill="none"/>
<rect x="188.3" y="217.3" width="3.2" height="3.2" fill="#1414c8"/>
<path d="M193.3,216.7V228.1M191.9,216.7h2.8M191.9,228.1h2.8" stroke="#8c8ce0" stroke-width="0.6" fill="none"/>
<rect x="191.7" y="220.8" width="3.2" height="3.2" fill="#1414c8"/>
<path d="M196.9,209.9V225.0M195.5,209.9h2.8M195.5,225.0h2.8" stroke="#8c8ce0" stroke-width="0.6" fill="none"/>
<rect x="195.3" y="215.9" width="3.2" height="3.2" fill="#1414c8"/>
<path d="M200.5,212.5V227.1M199.1,212.5h2.8M199.1,227.1h2.8" stroke="#8c8ce0" stroke-width="0.6" fill="none"/>
<rect x="198.9" y="218.2" width="3.2" height="3.2" fill="#1414c8"/>
<path d="M204.2,205.8V225.5M202.8,205.8h2.8M202.8,225.5h2.8" stroke="#8c8ce0" stroke-width="0.6" fill="none"/>
<rect x="202.6" y="214.0" width="3.2" height="3.2" fill="#1414c8"/>
<path d="M207.6,214.5V233.9M206.2,214.5h2.8M206.2,233.9h2.8" stroke="#8c8ce0" stroke-width="0.6" fill="none"/>
<rect x="206.0" y="222.6" width="3.2" height="3.2" fill="#1414c8"/>
<rect x="49.9" y="87.5" width="2.8" height="2.8" fill="#c81ed2"/>
<rect x="53.6" y="89.6" width="2.8" height="2.8" fill="#c81ed2"/>
<rect x="56.9" y="92.6" width="2.8" height="2.8" fill="#c81ed2"/>
<rect x="59.7" y="95.8" width="2.8" height="2.8" fill="#c81ed2"/>
<rect x="62.2" y="99.5" width="2.8" height="2.8" fill="#c81ed2"/>
<rect x="64.8" y="103.4" width="2.8" height="2.8" fill="#c81ed2"/>
<rect x="67.0" y="107.1" width="2.8" height="2.8" fill="#c81ed2"/>
<rect x="69.3" y="111.3" width="2.8" height="2.8" fill="#c81ed2"/>
<rect x="71.5" y="115.2" width="2.8" height="2.8" fill="#c81ed2"/>
<rect x="73.3" y="118.9" width="2.8" height="2.8" fill="#c81ed2"/>
<rect x="75.2" y="122.7" width="2.8" height="2.8" fill="#c81ed2"/>
<rect x="77.2" y="126.9" width="2.8" height="2.8" fill="#c81ed2"/>
<rect x="79.3" y="131.8" width="2.8" height="2.8" fill="#c81ed2"/>
<rect x="81.5" y="134.1" width="2.8" height="2.8" fill="#c81ed2"/>
<rect x="83.4" y="138.7" width="2.8" height="2.8" fill="#c81ed2"/>
<rect x="85.2" y="142.3" width="2.8" height="2.8" fill="#c81ed2"/>
<rect x="86.7" y="145.7" width="2.8" height="2.8" fill="#c81ed2"/>
<rect x="88.5" y="150.6" width="2.8" height="2.8" fill="#c81ed2"/>
<rect x="90.2" y="153.9" width="2.8" height="2.8" fill="#c81ed2"/>
<rect x="92.0" y="157.6" width="2.8" height="2.8" fill="#c81ed2"/>
<rect x="94.2" y="160.4" width="2.8" height="2.8" fill="#c81ed2"/>
<rect x="96.8" y="163.9" width="2.8" height="2.8" fill="#c81ed2"/>
<rect x="100.2" y="165.0" width="3.0" height="3.0" fill="#c81ed2"/>
<rect x="102.8" y="169.6" width="3.0" height="3.0" fill="#c81ed2"/>
<rect x="106.4" y="168.6" width="3.0" height="3.0" fill="#c81ed2"/>
<rect x="110.5" y="169.2" width="3.0" height="3.0" fill="#c81ed2"/>
<rect x="114.6" y="169.9" width="3.0" height="3.0" fill="#c81ed2"/>
<rect x="118.6" y="175.5" width="3.0" height="3.0" fill="#c81ed2"/>
<rect x="122.9" y="171.9" width="3.0" height="3.0" fill="#c81ed2"/>
<rect x="127.3" y="172.4" width="3.0" height="3.0" fill="#c81ed2"/>
<rect x="131.3" y="173.2" width="3.0" height="3.0" fill="#c81ed2"/>
<rect x="135.2" y="175.2" width="3.0" height="3.0" fill="#c81ed2"/>
<rect x="138.9" y="177.3" width="3.0" height="3.0" fill="#c81ed2"/>
<rect x="142.2" y="181.8" width="3.0" height="3.0" fill="#c81ed2"/>
<rect x="145.3" y="186.1" width="3.0" height="3.0" fill="#c81ed2"/>
<rect x="148.3" y="187.3" width="3.0" height="3.0" fill="#c81ed2"/>
<path d="M152.6,193.4V196.5M151.2,193.4h2.8M151.2,196.5h2.8" stroke="#e79ae9" stroke-width="0.6" fill="none"/>
<rect x="151.0" y="193.4" width="3.2" height="3.2" fill="#c81ed2"/>
<path d="M155.9,198.1V202.9M154.5,198.1h2.8M154.5,202.9h2.8" stroke="#e79ae9" stroke-width="0.6" fill="none"/>
<rect x="154.3" y="198.9" width="3.2" height="3.2" fill="#c81ed2"/>
<path d="M159.3,205.7V211.8M157.9,205.7h2.8M157.9,211.8h2.8" stroke="#e79ae9" stroke-width="0.6" fill="none"/>
<rect x="157.7" y="207.2" width="3.2" height="3.2" fill="#c81ed2"/>
<path d="M162.8,210.5V216.9M161.4,210.5h2.8M161.4,216.9h2.8" stroke="#e79ae9" stroke-width="0.6" fill="none"/>
<rect x="161.2" y="212.1" width="3.2" height="3.2" fill="#c81ed2"/>
<path d="M166.3,220.6V227.6M164.9,220.6h2.8M164.9,227.6h2.8" stroke="#e79ae9" stroke-width="0.6" fill="none"/>
<rect x="164.7" y="222.5" width="3.2" height="3.2" fill="#c81ed2"/>
<path d="M169.8,224.2V230.9M168.4,224.2h2.8M168.4,230.9h2.8" stroke="#e79ae9" stroke-width="0.6" fill="none"/>
<rect x="168.2" y="226.0" width="3.2" height="3.2" fill="#c81ed2"/>
<path d="M173.4,232.9V238.9M172.0,232.9h2.8M172.0,238.9h2.8" stroke="#e79ae9" stroke-width="0.6" fill="none"/>
<rect x="171.8" y="234.3" width="3.2" height="3.2" fill="#c81ed2"/>
<path d="M176.7,235.8V242.6M175.3,235.8h2.8M175.3,242.6h2.8" stroke="#e79ae9" stroke-width="0.6" fill="none"/>
<rect x="175.1" y="237.6" width="3.2" height="3.2" fill="#c81ed2"/>
<path d="M180.3,237.4V248.4M178.9,237.4h2.8M178.9,248.4h2.8" stroke="#e79ae9" stroke-width="0.6" fill="none"/>
<rect x="178.7" y="241.3" width="3.2" height="3.2" fill="#c81ed2"/>
<path d="M183.8,244.6V253.5M182.4,244.6h2.8M182.4,253.5h2.8" stroke="#e79ae9" stroke-width="0.6" fill="none"/>
<rect x="182.2" y="247.4" width="3.2" height="3.2" fill="#c81ed2"/>
<path d="M187.3,239.4V250.1M185.9,239.4h2.8M185.9,250.1h2.8" stroke="#e79ae9" stroke-width="0.6" fill="none"/>
<rect x="185.7" y="243.2" width="3.2" height="3.2" fill="#c81ed2"/>
<path d="M190.9,238.2V247.0M189.5,238.2h2.8M189.5,247.0h2.8" stroke="#e79ae9" stroke-width="0.6" fill="none"/>
<rect x="189.3" y="241.0" width="3.2" height="3.2" fill="#c81ed2"/>
<path d="M194.2,242.1V252.8M192.8,242.1h2.8M192.8,252.8h2.8" stroke="#e79ae9" stroke-width="0.6" fill="none"/>
<rect x="192.6" y="245.9" width="3.2" height="3.2" fill="#c81ed2"/>
<path d="M197.7,248.5V258.4M196.3,248.5h2.8M196.3,258.4h2.8" stroke="#e79ae9" stroke-width="0.6" fill="none"/>
<rect x="196.1" y="251.8" width="3.2" height="3.2" fill="#c81ed2"/>
<path d="M201.1,240.1V254.1M199.7,240.1h2.8M199.7,254.1h2.8" stroke="#e79ae9" stroke-width="0.6" fill="none"/>
<rect x="199.5" y="245.5" width="3.2" height="3.2" fill="#c81ed2"/>
<path d="M204.6,247.3V260.0M203.2,247.3h2.8M203.2,260.0h2.8" stroke="#e79ae9" stroke-width="0.6" fill="none"/>
<rect x="203.0" y="252.1" width="3.2" height="3.2" fill="#c81ed2"/>
<path d="M208.1,237.0V249.6M206.7,237.0h2.8M206.7,249.6h2.8" stroke="#e79ae9" stroke-width="0.6" fill="none"/>
<rect x="206.5" y="241.7" width="3.2" height="3.2" fill="#c81ed2"/>
<path d="M211.8,242.2V256.0M210.4,242.2h2.8M210.4,256.0h2.8" stroke="#e79ae9" stroke-width="0.6" fill="none"/>
<rect x="210.2" y="247.5" width="3.2" height="3.2" fill="#c81ed2"/>
<path d="M215.5,241.0V256.9M214.1,241.0h2.8M214.1,256.9h2.8" stroke="#e79ae9" stroke-width="0.6" fill="none"/>
<rect x="213.9" y="247.3" width="3.2" height="3.2" fill="#c81ed2"/>
<path d="M219.1,238.3V257.4M217.7,238.3h2.8M217.7,257.4h2.8" stroke="#e79ae9" stroke-width="0.6" fill="none"/>
<rect x="217.5" y="246.3" width="3.2" height="3.2" fill="#c81ed2"/>
<path d="M222.6,238.0V257.8M221.2,238.0h2.8M221.2,257.8h2.8" stroke="#e79ae9" stroke-width="0.6" fill="none"/>
<rect x="221.0" y="246.3" width="3.2" height="3.2" fill="#c81ed2"/>
<path d="M226.0,242.7V261.4M224.6,242.7h2.8M224.6,261.4h2.8" stroke="#e79ae9" stroke-width="0.6" fill="none"/>
<rect x="224.4" y="250.4" width="3.2" height="3.2" fill="#c81ed2"/>
<path d="M229.3,226.2V243.3M227.9,226.2h2.8M227.9,243.3h2.8" stroke="#e79ae9" stroke-width="0.6" fill="none"/>
<rect x="227.7" y="233.1" width="3.2" height="3.2" fill="#c81ed2"/>
<rect x="49.9" y="110.4" width="2.8" height="2.8" fill="#1eb41e"/>
<rect x="52.8" y="114.3" width="2.8" height="2.8" fill="#1eb41e"/>
<rect x="55.6" y="116.3" width="2.8" height="2.8" fill="#1eb41e"/>
<rect x="58.7" y="119.9" width="2.8" height="2.8" fill="#1eb41e"/>
<rect x="61.6" y="122.9" width="2.8" height="2.8" fill="#1eb41e"/>
<rect x="64.4" y="125.8" width="2.8" height="2.8" fill="#1eb41e"/>
<rect x="66.9" y="129.7" width="2.8" height="2.8" fill="#1eb41e"/>
<rect x="69.4" y="132.8" width="2.8" height="2.8" fill="#1eb41e"/>
<rect x="71.4" y="137.7" width="2.8" height="2.8" fill="#1eb41e"/>
<rect x="73.4" y="141.3" width="2.8" height="2.8" fill="#1eb41e"/>
<rect x="75.5" y="145.3" width="2.8" height="2.8" fill="#1eb41e"/>
<rect x="77.5" y="150.1" width="2.8" height="2.8" fill="#1eb41e"/>
<rect x="79.3" y="153.5" width="2.8" height="2.8" fill="#1eb41e"/>
<rect x="81.1" y="158.5" width="2.8" height="2.8" fill="#1eb41e"/>
<rect x="82.8" y="161.8" width="2.8" height="2.8" fill="#1eb41e"/>
<rect x="84.5" y="165.9" width="2.8" height="2.8" fill="#1eb41e"/>
<rect x="86.0" y="170.0" width="2.8" height="2.8" fill="#1eb41e"/>
<rect x="87.7" y="174.1" width="2.8" height="2.8" fill="#1eb41e"/>
<rect x="89.4" y="179.3" width="2.8" height="2.8" fill="#1eb41e"/>
<rect x="91.4" y="181.3" width="2.8" height="2.8" fill="#1eb41e"/>
<rect x="93.7" y="185.2" width="2.8" height="2.8" fill="#1eb41e"/>
<rect x="96.0" y="191.6" width="2.8" height="2.8" fill="#1eb41e"/>
<rect x="98.6" y="190.2" width="3.0" height="3.0" fill="#1eb41e"/>
<rect x="100.8" y="197.1" width="3.0" height="3.0" fill="#1eb41e"/>
<rect x="103.6" y="197.8" width="3.0" height="3.0" fill="#1eb41e"/>
<rect x="107.0" y="199.6" width="3.0" height="3.0" fill="#1eb41e"/>
<rect x="111.3" y="198.6" width="3.0" height="3.0" fill="#1eb41e"/>
<rect x="115.5" y="199.4" width="3.0" height="3.0" fill="#1eb41e"/>
<rect x="119.8" y="199.6" width="3.0" height="3.0" fill="#1eb41e"/>
<rect x="123.9" y="198.1" width="3.0" height="3.0" fill="#1eb41e"/>
<rect x="128.0" y="200.4" width="3.0" height="3.0" fill="#1eb41e"/>
<rect x="131.9" y="203.2" width="3.0" height="3.0" fill="#1eb41e"/>
<rect x="135.7" y="204.1" width="3.0" height="3.0" fill="#1eb41e"/>
<rect x="139.5" y="205.1" width="3.0" height="3.0" fill="#1eb41e"/>
<rect x="142.9" y="208.3" width="3.0" height="3.0" fill="#1eb41e"/>
<rect x="146.0" y="212.4" width="3.0" height="3.0" fill="#1eb41e"/>
<path d="M150.3,218.2V222.3M148.9,218.2h2.8M148.9,222.3h2.8" stroke="#8fdc8f" stroke-width="0.6" fill="none"/>
<rect x="148.7" y="218.6" width="3.2" height="3.2" fill="#1eb41e"/>
<path d="M154.0,222.6V226.3M152.6,222.6h2.8M152.6,226.3h2.8" stroke="#8fdc8f" stroke-width="0.6" fill="none"/>
<rect x="152.4" y="222.8" width="3.2" height="3.2" fill="#1eb41e"/>
<path d="M157.4,226.3V229.8M156.0,226.3h2.8M156.0,229.8h2.8" stroke="#8fdc8f" stroke-width="0.6" fill="none"/>
<rect x="155.8" y="226.4" width="3.2" height="3.2" fill="#1eb41e"/>
<path d="M160.8,231.8V236.1M159.4,231.8h2.8M159.4,236.1h2.8" stroke="#8fdc8f" stroke-width="0.6" fill="none"/>
<rect x="159.2" y="232.3" width="3.2" height="3.2" fill="#1eb41e"/>
<path d="M164.3,234.6V242.1M162.9,234.6h2.8M162.9,242.1h2.8" stroke="#8fdc8f" stroke-width="0.6" fill="none"/>
<rect x="162.7" y="236.7" width="3.2" height="3.2" fill="#1eb41e"/>
<path d="M167.9,239.6V246.1M166.5,239.6h2.8M166.5,246.1h2.8" stroke="#8fdc8f" stroke-width="0.6" fill="none"/>
<rect x="166.3" y="241.3" width="3.2" height="3.2" fill="#1eb41e"/>
<path d="M171.4,249.0V255.7M170.0,249.0h2.8M170.0,255.7h2.8" stroke="#8fdc8f" stroke-width="0.6" fill="none"/>
<rect x="169.8" y="250.7" width="3.2" height="3.2" fill="#1eb41e"/>
<path d="M174.7,252.5V259.2M173.3,252.5h2.8M173.3,259.2h2.8" stroke="#8fdc8f" stroke-width="0.6" fill="none"/>
<rect x="173.1" y="254.2" width="3.2" height="3.2" fill="#1eb41e"/>
<path d="M178.2,264.1V274.3M176.8,264.1h2.8M176.8,274.3h2.8" stroke="#8fdc8f" stroke-width="0.6" fill="none"/>
<rect x="176.6" y="267.6" width="3.2" height="3.2" fill="#1eb41e"/>
<path d="M181.8,264.3V273.8M180.4,264.3h2.8M180.4,273.8h2.8" stroke="#8fdc8f" stroke-width="0.6" fill="none"/>
<rect x="180.2" y="267.4" width="3.2" height="3.2" fill="#1eb41e"/>
<path d="M185.3,270.0V281.5M183.9,270.0h2.8M183.9,281.5h2.8" stroke="#8fdc8f" stroke-width="0.6" fill="none"/>
<rect x="183.7" y="274.1" width="3.2" height="3.2" fill="#1eb41e"/>
<path d="M189.0,275.8V286.3M187.6,275.8h2.8M187.6,286.3h2.8" stroke="#8fdc8f" stroke-width="0.6" fill="none"/>
<rect x="187.4" y="279.4" width="3.2" height="3.2" fill="#1eb41e"/>
<path d="M192.3,264.6V279.6M190.9,264.6h2.8M190.9,279.6h2.8" stroke="#8fdc8f" stroke-width="0.6" fill="none"/>
<rect x="190.7" y="270.5" width="3.2" height="3.2" fill="#1eb41e"/>
<path d="M196.0,267.4V280.1M194.6,267.4h2.8M194.6,280.1h2.8" stroke="#8fdc8f" stroke-width="0.6" fill="none"/>
<rect x="194.4" y="272.1" width="3.2" height="3.2" fill="#1eb41e"/>
<path d="M199.4,271.6V290.0M198.0,271.6h2.8M198.0,290.0h2.8" stroke="#8fdc8f" stroke-width="0.6" fill="none"/>
<rect x="197.8" y="279.2" width="3.2" height="3.2" fill="#1eb41e"/>
<path d="M203.0,280.2V296.3M201.6,280.2h2.8M201.6,296.3h2.8" stroke="#8fdc8f" stroke-width="0.6" fill="none"/>
<rect x="201.4" y="286.7" width="3.2" height="3.2" fill="#1eb41e"/>
<path d="M206.4,260.1V276.8M205.0,260.1h2.8M205.0,276.8h2.8" stroke="#8fdc8f" stroke-width="0.6" fill="none"/>
<rect x="204.8" y="266.8" width="3.2" height="3.2" fill="#1eb41e"/>
<path d="M209.9,264.0V284.5M208.5,264.0h2.8M208.5,284.5h2.8" stroke="#8fdc8f" stroke-width="0.6" fill="none"/>
<rect x="208.3" y="272.7" width="3.2" height="3.2" fill="#1eb41e"/>
<rect x="49.9" y="138.7" width="2.8" height="2.8" fill="#e07818"/>
<rect x="53.2" y="142.1" width="2.8" height="2.8" fill="#e07818"/>
<rect x="56.2" y="145.6" width="2.8" height="2.8" fill="#e07818"/>
<rect x="59.4" y="148.7" width="2.8" height="2.8" fill="#e07818"/>
<rect x="62.4" y="153.2" width="2.8" height="2.8" fill="#e07818"/>
<rect x="64.9" y="155.8" width="2.8" height="2.8" fill="#e07818"/>
<rect x="67.5" y="159.5" width="2.8" height="2.8" fill="#e07818"/>
<rect x="69.9" y="163.4" width="2.8" height="2.8" fill="#e07818"/>
<rect x="72.1" y="167.2" width="2.8" height="2.8" fill="#e07818"/>
<rect x="74.3" y="170.8" width="2.8" height="2.8" fill="#e07818"/>
<rect x="76.4" y="175.3" width="2.8" height="2.8" fill="#e07818"/>
<rect x="78.3" y="178.4" width="2.8" height="2.8" fill="#e07818"/>
<rect x="80.6" y="183.1" width="2.8" height="2.8" fill="#e07818"/>
<rect x="83.0" y="186.7" width="2.8" height="2.8" fill="#e07818"/>
<rect x="85.3" y="189.6" width="2.8" height="2.8" fill="#e07818"/>
<rect x="87.2" y="194.8" width="2.8" height="2.8" fill="#e07818"/>
<rect x="88.8" y="198.0" width="2.8" height="2.8" fill="#e07818"/>
<rect x="90.1" y="201.2" width="2.8" height="2.8" fill="#e07818"/>
<rect x="91.6" y="206.2" width="2.8" height="2.8" fill="#e07818"/>
<rect x="93.1" y="208.7" width="2.8" height="2.8" fill="#e07818"/>
<rect x="94.6" y="211.6" width="2.8" height="2.8" fill="#e07818"/>
<rect x="96.0" y="217.2" width="2.8" height="2.8" fill="#e07818"/>
<rect x="97.9" y="223.0" width="2.8" height="2.8" fill="#e07818"/>
<rect x="100.2" y="224.2" width="3.0" height="3.0" fill="#e07818"/>
<rect x="102.0" y="225.4" width="3.0" height="3.0" fill="#e07818"/>
<rect x="104.2" y="231.9" width="3.0" height="3.0" fill="#e07818"/>
<rect x="107.1" y="233.5" width="3.0" height="3.0" fill="#e07818"/>
<rect x="110.6" y="235.3" width="3.0" height="3.0" fill="#e07818"/>
<rect x="114.7" y="236.5" width="3.0" height="3.0" fill="#e07818"/>
<rect x="118.9" y="231.8" width="3.0" height="3.0" fill="#e07818"/>
<rect x="122.6" y="231.4" width="3.0" height="3.0" fill="#e07818"/>
<rect x="126.7" y="229.1" width="3.0" height="3.0" fill="#e07818"/>
<rect x="130.8" y="228.1" width="3.0" height="3.0" fill="#e07818"/>
<rect x="134.8" y="233.3" width="3.0" height="3.0" fill="#e07818"/>
<rect x="138.4" y="237.5" width="3.0" height="3.0" fill="#e07818"/>
<rect x="142.1" y="236.9" width="3.0" height="3.0" fill="#e07818"/>
<rect x="146.0" y="238.9" width="3.0" height="3.0" fill="#e07818"/>
<path d="M150.6,240.3V247.9M149.2,240.3h2.8M149.2,247.9h2.8" stroke="#f2bb85" stroke-width="0.6" fill="none"/>
<rect x="149.0" y="242.5" width="3.2" height="3.2" fill="#e07818"/>
<path d="M154.1,244.0V247.9M152.7,244.0h2.8M152.7,247.9h2.8" stroke="#f2bb85" stroke-width="0.6" fill="none"/>
<rect x="152.5" y="244.3" width="3.2" height="3.2" fill="#e07818"/>
<path d="M157.7,254.2V260.6M156.3,254.2h2.8M156.3,260.6h2.8" stroke="#f2bb85" stroke-width="0.6" fill="none"/>
<rect x="156.1" y="255.8" width="3.2" height="3.2" fill="#e07818"/>
<path d="M161.2,261.2V266.1M159.8,261.2h2.8M159.8,266.1h2.8" stroke="#f2bb85" stroke-width="0.6" fill="none"/>
<rect x="159.6" y="262.1" width="3.2" height="3.2" fill="#e07818"/>
<path d="M164.6,268.0V272.4M163.2,268.0h2.8M163.2,272.4h2.8" stroke="#f2bb85" stroke-width="0.6" fill="none"/>
<rect x="163.0" y="268.6" width="3.2" height="3.2" fill="#e07818"/>
<path d="M168.1,271.4V279.2M166.7,271.4h2.8M166.7,279.2h2.8" stroke="#f2bb85" stroke-width="0.6" fill="none"/>
<rect x="166.5" y="273.7" width="3.2" height="3.2" fill="#e07818"/>
<path d="M171.4,278.3V283.4M170.0,278.3h2.8M170.0,283.4h2.8" stroke="#f2bb85" stroke-width="0.6" fill="none"/>
<rect x="169.8" y="279.2" width="3.2" height="3.2" fill="#e07818"/>
<path d="M175.0,280.7V288.9M173.6,280.7h2.8M173.6,288.9h2.8" stroke="#f2bb85" stroke-width="0.6" fill="none"/>
<rect x="173.4" y="283.2" width="3.2" height="3.2" fill="#e07818"/>
<path d="M178.5,288.9V295.6M177.1,288.9h2.8M177.1,295.6h2.8" stroke="#f2bb85" stroke-width="0.6" fill="none"/>
<rect x="176.9" y="290.6" width="3.2" height="3.2" fill="#e07818"/>
<path d="M182.2,292.3V298.9M180.8,292.3h2.8M180.8,298.9h2.8" stroke="#f2bb85" stroke-width="0.6" fill="none"/>
<rect x="180.6" y="294.0" width="3.2" height="3.2" fill="#e07818"/>
<path d="M185.6,294.7V303.1M184.2,294.7h2.8M184.2,303.1h2.8" stroke="#f2bb85" stroke-width="0.6" fill="none"/>
<rect x="184.0" y="297.3" width="3.2" height="3.2" fill="#e07818"/>
<path d="M189.2,296.3V307.2M187.8,296.3h2.8M187.8,307.2h2.8" stroke="#f2bb85" stroke-width="0.6" fill="none"/>
<rect x="187.6" y="300.1" width="3.2" height="3.2" fill="#e07818"/>
<path d="M192.6,297.8V310.3M191.2,297.8h2.8M191.2,310.3h2.8" stroke="#f2bb85" stroke-width="0.6" fill="none"/>
<rect x="191.0" y="302.4" width="3.2" height="3.2" fill="#e07818"/>
<path d="M196.0,297.3V309.7M194.6,297.3h2.8M194.6,309.7h2.8" stroke="#f2bb85" stroke-width="0.6" fill="none"/>
<rect x="194.4" y="301.9" width="3.2" height="3.2" fill="#e07818"/>
<path d="M199.6,294.8V309.0M198.2,294.8h2.8M198.2,309.0h2.8" stroke="#f2bb85" stroke-width="0.6" fill="none"/>
<rect x="198.0" y="300.3" width="3.2" height="3.2" fill="#e07818"/>
<path d="M203.2,300.0V311.5M201.8,300.0h2.8M201.8,311.5h2.8" stroke="#f2bb85" stroke-width="0.6" fill="none"/>
<rect x="201.6" y="304.2" width="3.2" height="3.2" fill="#e07818"/>
<path d="M206.8,296.6V307.6M205.4,296.6h2.8M205.4,307.6h2.8" stroke="#f2bb85" stroke-width="0.6" fill="none"/>
<rect x="205.2" y="300.5" width="3.2" height="3.2" fill="#e07818"/>
<path d="M210.4,298.2V314.5M209.0,298.2h2.8M209.0,314.5h2.8" stroke="#f2bb85" stroke-width="0.6" fill="none"/>
<rect x="208.8" y="304.7" width="3.2" height="3.2" fill="#e07818"/>
<path d="M213.9,297.4V311.0M212.5,297.4h2.8M212.5,311.0h2.8" stroke="#f2bb85" stroke-width="0.6" fill="none"/>
<rect x="212.3" y="302.6" width="3.2" height="3.2" fill="#e07818"/>
<path d="M217.4,293.9V311.9M216.0,293.9h2.8M216.0,311.9h2.8" stroke="#f2bb85" stroke-width="0.6" fill="none"/>
<rect x="215.8" y="301.3" width="3.2" height="3.2" fill="#e07818"/>
<path d="M221.1,292.3V308.4M219.7,292.3h2.8M219.7,308.4h2.8" stroke="#f2bb85" stroke-width="0.6" fill="none"/>
<rect x="219.5" y="298.8" width="3.2" height="3.2" fill="#e07818"/>
<path d="M224.6,295.9V315.3M223.2,295.9h2.8M223.2,315.3h2.8" stroke="#f2bb85" stroke-width="0.6" fill="none"/>
<rect x="223.0" y="304.0" width="3.2" height="3.2" fill="#e07818"/>
<path d="M228.0,296.0V315.6M226.6,296.0h2.8M226.6,315.6h2.8" stroke="#f2bb85" stroke-width="0.6" fill="none"/>
<rect x="226.4" y="304.2" width="3.2" height="3.2" fill="#e07818"/>
<path d="M231.6,284.7V304.0M230.2,284.7h2.8M230.2,304.0h2.8" stroke="#f2bb85" stroke-width="0.6" fill="none"/>
<rect x="230.0" y="292.7" width="3.2" height="3.2" fill="#e07818"/>
<path d="M235.0,290.1V311.0M233.6,290.1h2.8M233.6,311.0h2.8" stroke="#f2bb85" stroke-width="0.6" fill="none"/>
<rect x="233.4" y="299.0" width="3.2" height="3.2" fill="#e07818"/>
<path d="M213.3,285H218.7" stroke="#1eb41e" stroke-width="1.6"/>
<rect x="50.9" y="2.9" width="234.8" height="313.5" fill="none" stroke="#5c6064" stroke-width="1.3"/>
<path d="M62.1,316.4v3.5M62.1,2.9v3.5M84.5,316.4v2.5M84.5,2.9v2.5M106.8,316.4v3.5M106.8,2.9v3.5M129.2,316.4v2.5M129.2,2.9v2.5M151.5,316.4v3.5M151.5,2.9v3.5M173.8,316.4v2.5M173.8,2.9v2.5M196.2,316.4v3.5M196.2,2.9v3.5M218.6,316.4v2.5M218.6,2.9v2.5M240.9,316.4v3.5M240.9,2.9v3.5M263.3,316.4v2.5M263.3,2.9v2.5M285.6,316.4v3.5M285.6,2.9v3.5M50.9,137.8h-3.5M50.9,195.5h-3.5M50.9,253.1h-3.5M50.9,310.8h-3.5" stroke="#5c6064" stroke-width="1" fill="none"/>
<text transform="translate(52.40,332.80) scale(0.9838,1)" font-size="14.3" fill="#000" >0.2</text>
<text transform="translate(97.11,332.80) scale(0.9682,1)" font-size="14.3" fill="#000" >0.4</text>
<text transform="translate(141.80,332.80) scale(0.9790,1)" font-size="14.3" fill="#000" >0.6</text>
<text transform="translate(186.50,332.80) scale(0.9787,1)" font-size="14.3" fill="#000" >0.8</text>
<text transform="translate(230.66,332.80) scale(1.0038,1)" font-size="14.3" fill="#000" >1.0</text>
<text transform="translate(275.35,332.80) scale(1.0127,1)" font-size="14.3" fill="#000" >1.2</text>
<text transform="translate(25.29,143.10) scale(1.0139,1)" font-size="13.7" fill="#000" >10</text>
<text transform="translate(40.66,136.80) scale(1.0337,1)" font-size="8.5" fill="#000" >0</text>
<text transform="translate(22.39,200.77) scale(1.0139,1)" font-size="13.7" fill="#000" >10</text>
<text transform="translate(37.08,194.47) scale(1.1086,1)" font-size="8.5" fill="#000" >-1</text>
<text transform="translate(22.09,258.44) scale(1.0139,1)" font-size="13.7" fill="#000" >10</text>
<text transform="translate(36.78,252.14) scale(1.1107,1)" font-size="8.5" fill="#000" >-2</text>
<text transform="translate(21.79,316.11) scale(1.0139,1)" font-size="13.7" fill="#000" >10</text>
<text transform="translate(36.58,309.81) scale(1.1019,1)" font-size="8.5" fill="#000" >-3</text>
<text transform="translate(12.30,249.23) rotate(-90) scale(0.9322,1)" font-size="16.1" fill="#000">Log intensity (arb. units)</text>
<text transform="translate(125.04,354.00) scale(1.1353,1)" font-size="16" fill="#000" >Q</text>
<text transform="translate(137.92,358.90) scale(1.0679,1)" font-size="11.2" fill="#000" >z</text>
<text transform="translate(146.67,353.80) scale(0.9631,1)" font-size="15.5" fill="#000" >(nm</text>
<text transform="translate(172.14,346.50) scale(1.0470,1)" font-size="7.8" fill="#000" >-1</text>
<text transform="translate(180.40,353.80) scale(1.0463,1)" font-size="15.5" fill="#000" >)</text>
<text transform="translate(57.39,245.00) scale(1.0251,1)" font-size="19.1" fill="#000" >(a)</text>
<text transform="translate(57.16,285.50) scale(1.0648,1)" font-size="17.6" fill="#000" >Fe</text>
<text transform="translate(79.11,292.20) scale(1.0456,1)" font-size="11.7" fill="#000" >5</text>
<path d="M56.7,299.7H99.1" stroke="#5ccff5" stroke-width="1.5"/>
<text transform="translate(103.52,305.70) scale(1.1717,1)" font-size="16.7" fill="#000" >fit</text>
<text transform="translate(247.91,172.30) scale(1.1335,1)" font-size="22.8" fill="#000" >t</text>
<text transform="translate(253.96,180.50) scale(1.0005,1)" font-size="13.8" fill="#000" >0</text>
<text transform="translate(247.91,197.00) scale(1.1335,1)" font-size="22.8" fill="#d0101a" >t</text>
<text transform="translate(253.94,205.30) scale(1.0087,1)" font-size="13.8" fill="#d0101a" >5</text>
<text transform="translate(247.91,224.00) scale(1.1335,1)" font-size="22.8" fill="#1414c8" >t</text>
<text transform="translate(253.97,231.70) scale(1.0080,1)" font-size="13.8" fill="#1414c8" >30</text>
<text transform="translate(247.91,252.00) scale(1.1335,1)" font-size="22.8" fill="#c81ed2" >t</text>
<text transform="translate(253.47,259.50) scale(0.9797,1)" font-size="13.8" fill="#c81ed2" >150</text>
<text transform="translate(247.91,276.50) scale(1.1335,1)" font-size="22.8" fill="#1eb41e" >t</text>
<text transform="translate(254.20,284.70) scale(0.9473,1)" font-size="13.8" fill="#1eb41e" >400</text>
<text transform="translate(247.91,302.20) scale(1.1335,1)" font-size="22.8" fill="#e07818" >t</text>
<text transform="translate(253.99,310.30) scale(0.9617,1)" font-size="13.8" fill="#e07818" >3000</text>
<rect x="149.3" y="45.6" width="113.7" height="19.7" fill="#c9d7df"/>
<rect x="149.3" y="25.3" width="113.7" height="20.3" fill="#e6e9ec"/>
<path d="M150.3,25.8h1M151.3,25.8h1M155.3,25.8h1M156.3,25.8h1M157.3,25.8h1M158.3,25.8h1M161.3,25.8h1M164.3,25.8h1M165.3,25.8h1M167.3,25.8h1M169.3,25.8h1M174.3,25.8h1M175.3,25.8h1M179.3,25.8h1M182.3,25.8h1M183.3,25.8h1M185.3,25.8h1M186.3,25.8h1M187.3,25.8h1M189.3,25.8h1M190.3,25.8h1M193.3,25.8h1M197.3,25.8h1M198.3,25.8h1M200.3,25.8h1M201.3,25.8h1M202.3,25.8h1M205.3,25.8h1M206.3,25.8h1M208.3,25.8h1M211.3,25.8h1M214.3,25.8h1M220.3,25.8h1M221.3,25.8h1M222.3,25.8h1M227.3,25.8h1M228.3,25.8h1M229.3,25.8h1M230.3,25.8h1M231.3,25.8h1M233.3,25.8h1M234.3,25.8h1M235.3,25.8h1M236.3,25.8h1M237.3,25.8h1M238.3,25.8h1M240.3,25.8h1M245.3,25.8h1M252.3,25.8h1M253.3,25.8h1M254.3,25.8h1M258.3,25.8h1M259.3,25.8h1M152.3,26.8h1M154.3,26.8h1M155.3,26.8h1M156.3,26.8h1M158.3,26.8h1M159.3,26.8h1M163.3,26.8h1M164.3,26.8h1M168.3,26.8h1M170.3,26.8h1M176.3,26.8h1M177.3,26.8h1M180.3,26.8h1M181.3,26.8h1M183.3,26.8h1M185.3,26.8h1M189.3,26.8h1M190.3,26.8h1M196.3,26.8h1M200.3,26.8h1M206.3,26.8h1M210.3,26.8h1M212.3,26.8h1M222.3,26.8h1M223.3,26.8h1M226.3,26.8h1M227.3,26.8h1M228.3,26.8h1M229.3,26.8h1M230.3,26.8h1M234.3,26.8h1M235.3,26.8h1M240.3,26.8h1M242.3,26.8h1M244.3,26.8h1M245.3,26.8h1M246.3,26.8h1M252.3,26.8h1M253.3,26.8h1M256.3,26.8h1M258.3,26.8h1M260.3,26.8h1M150.3,27.8h1M153.3,27.8h1M156.3,27.8h1M158.3,27.8h1M159.3,27.8h1M160.3,27.8h1M164.3,27.8h1M166.3,27.8h1M167.3,27.8h1M175.3,27.8h1M184.3,27.8h1M185.3,27.8h1M189.3,27.8h1M191.3,27.8h1M193.3,27.8h1M198.3,27.8h1M201.3,27.8h1M202.3,27.8h1M203.3,27.8h1M204.3,27.8h1M205.3,27.8h1M206.3,27.8h1M207.3,27.8h1M212.3,27.8h1M220.3,27.8h1M224.3,27.8h1M225.3,27.8h1M226.3,27.8h1M227.3,27.8h1M228.3,27.8h1M229.3,27.8h1M236.3,27.8h1M239.3,27.8h1M240.3,27.8h1M242.3,27.8h1M248.3,27.8h1M251.3,27.8h1M252.3,27.8h1M253.3,27.8h1M254.3,27.8h1M255.3,27.8h1M261.3,27.8h1M156.3,28.8h1M157.3,28.8h1M159.3,28.8h1M164.3,28.8h1M166.3,28.8h1M167.3,28.8h1M171.3,28.8h1M172.3,28.8h1M183.3,28.8h1M184.3,28.8h1M185.3,28.8h1M191.3,28.8h1M193.3,28.8h1M199.3,28.8h1M201.3,28.8h1M202.3,28.8h1M203.3,28.8h1M204.3,28.8h1M206.3,28.8h1M208.3,28.8h1M218.3,28.8h1M221.3,28.8h1M224.3,28.8h1M225.3,28.8h1M226.3,28.8h1M227.3,28.8h1M232.3,28.8h1M239.3,28.8h1M244.3,28.8h1M245.3,28.8h1M253.3,28.8h1M259.3,28.8h1M153.3,29.8h1M154.3,29.8h1M155.3,29.8h1M159.3,29.8h1M165.3,29.8h1M167.3,29.8h1M168.3,29.8h1M175.3,29.8h1M176.3,29.8h1M177.3,29.8h1M190.3,29.8h1M191.3,29.8h1M198.3,29.8h1M201.3,29.8h1M203.3,29.8h1M204.3,29.8h1M205.3,29.8h1M208.3,29.8h1M212.3,29.8h1M220.3,29.8h1M224.3,29.8h1M226.3,29.8h1M227.3,29.8h1M232.3,29.8h1M234.3,29.8h1M239.3,29.8h1M244.3,29.8h1M245.3,29.8h1M246.3,29.8h1M250.3,29.8h1M256.3,29.8h1M153.3,30.8h1M154.3,30.8h1M155.3,30.8h1M157.3,30.8h1M167.3,30.8h1M168.3,30.8h1M170.3,30.8h1M177.3,30.8h1M181.3,30.8h1M185.3,30.8h1M192.3,30.8h1M199.3,30.8h1M201.3,30.8h1M204.3,30.8h1M205.3,30.8h1M218.3,30.8h1M226.3,30.8h1M227.3,30.8h1M228.3,30.8h1M229.3,30.8h1M230.3,30.8h1M231.3,30.8h1M241.3,30.8h1M245.3,30.8h1M248.3,30.8h1M251.3,30.8h1M254.3,30.8h1M257.3,30.8h1M153.3,31.8h1M166.3,31.8h1M167.3,31.8h1M172.3,31.8h1M178.3,31.8h1M180.3,31.8h1M184.3,31.8h1M186.3,31.8h1M195.3,31.8h1M201.3,31.8h1M205.3,31.8h1M214.3,31.8h1M217.3,31.8h1M223.3,31.8h1M227.3,31.8h1M234.3,31.8h1M236.3,31.8h1M237.3,31.8h1M241.3,31.8h1M244.3,31.8h1M246.3,31.8h1M252.3,31.8h1M150.3,32.8h1M152.3,32.8h1M153.3,32.8h1M154.3,32.8h1M155.3,32.8h1M158.3,32.8h1M161.3,32.8h1M164.3,32.8h1M165.3,32.8h1M170.3,32.8h1M175.3,32.8h1M182.3,32.8h1M186.3,32.8h1M192.3,32.8h1M193.3,32.8h1M200.3,32.8h1M201.3,32.8h1M204.3,32.8h1M210.3,32.8h1M211.3,32.8h1M214.3,32.8h1M218.3,32.8h1M224.3,32.8h1M227.3,32.8h1M228.3,32.8h1M245.3,32.8h1M246.3,32.8h1M248.3,32.8h1M250.3,32.8h1M152.3,33.8h1M153.3,33.8h1M154.3,33.8h1M156.3,33.8h1M159.3,33.8h1M163.3,33.8h1M165.3,33.8h1M169.3,33.8h1M170.3,33.8h1M172.3,33.8h1M184.3,33.8h1M187.3,33.8h1M188.3,33.8h1M193.3,33.8h1M199.3,33.8h1M200.3,33.8h1M201.3,33.8h1M204.3,33.8h1M206.3,33.8h1M207.3,33.8h1M224.3,33.8h1M226.3,33.8h1M227.3,33.8h1M228.3,33.8h1M230.3,33.8h1M234.3,33.8h1M235.3,33.8h1M240.3,33.8h1M241.3,33.8h1M249.3,33.8h1M151.3,34.8h1M157.3,34.8h1M161.3,34.8h1M169.3,34.8h1M170.3,34.8h1M173.3,34.8h1M181.3,34.8h1M183.3,34.8h1M184.3,34.8h1M185.3,34.8h1M186.3,34.8h1M187.3,34.8h1M188.3,34.8h1M190.3,34.8h1M204.3,34.8h1M214.3,34.8h1M219.3,34.8h1M221.3,34.8h1M226.3,34.8h1M227.3,34.8h1M231.3,34.8h1M238.3,34.8h1M240.3,34.8h1M241.3,34.8h1M243.3,34.8h1M249.3,34.8h1M254.3,34.8h1M260.3,34.8h1M151.3,35.8h1M156.3,35.8h1M170.3,35.8h1M172.3,35.8h1M178.3,35.8h1M179.3,35.8h1M182.3,35.8h1M185.3,35.8h1M186.3,35.8h1M200.3,35.8h1M201.3,35.8h1M203.3,35.8h1M205.3,35.8h1M226.3,35.8h1M229.3,35.8h1M236.3,35.8h1M239.3,35.8h1M240.3,35.8h1M241.3,35.8h1M244.3,35.8h1M245.3,35.8h1M248.3,35.8h1M255.3,35.8h1M256.3,35.8h1M152.3,36.8h1M154.3,36.8h1M160.3,36.8h1M180.3,36.8h1M186.3,36.8h1M187.3,36.8h1M190.3,36.8h1M193.3,36.8h1M194.3,36.8h1M198.3,36.8h1M200.3,36.8h1M204.3,36.8h1M205.3,36.8h1M206.3,36.8h1M213.3,36.8h1M217.3,36.8h1M241.3,36.8h1M243.3,36.8h1M247.3,36.8h1M257.3,36.8h1M150.3,37.8h1M151.3,37.8h1M155.3,37.8h1M156.3,37.8h1M164.3,37.8h1M168.3,37.8h1M171.3,37.8h1M186.3,37.8h1M191.3,37.8h1M199.3,37.8h1M202.3,37.8h1M205.3,37.8h1M215.3,37.8h1M219.3,37.8h1M228.3,37.8h1M229.3,37.8h1M238.3,37.8h1M241.3,37.8h1M242.3,37.8h1M247.3,37.8h1M249.3,37.8h1M251.3,37.8h1M252.3,37.8h1M255.3,37.8h1M256.3,37.8h1M151.3,38.8h1M152.3,38.8h1M157.3,38.8h1M168.3,38.8h1M171.3,38.8h1M172.3,38.8h1M173.3,38.8h1M200.3,38.8h1M201.3,38.8h1M207.3,38.8h1M214.3,38.8h1M215.3,38.8h1M221.3,38.8h1M225.3,38.8h1M229.3,38.8h1M240.3,38.8h1M243.3,38.8h1M151.3,39.8h1M156.3,39.8h1M159.3,39.8h1M172.3,39.8h1M176.3,39.8h1M180.3,39.8h1M184.3,39.8h1M186.3,39.8h1M187.3,39.8h1M188.3,39.8h1M198.3,39.8h1M204.3,39.8h1M222.3,39.8h1M223.3,39.8h1M240.3,39.8h1M241.3,39.8h1M248.3,39.8h1M150.3,40.8h1M158.3,40.8h1M159.3,40.8h1M164.3,40.8h1M174.3,40.8h1M181.3,40.8h1M186.3,40.8h1M190.3,40.8h1M192.3,40.8h1M199.3,40.8h1M204.3,40.8h1M206.3,40.8h1M209.3,40.8h1M222.3,40.8h1M224.3,40.8h1M229.3,40.8h1M232.3,40.8h1M238.3,40.8h1M241.3,40.8h1M242.3,40.8h1M243.3,40.8h1M253.3,40.8h1M151.3,41.8h1M155.3,41.8h1M160.3,41.8h1M172.3,41.8h1M177.3,41.8h1M180.3,41.8h1M188.3,41.8h1M189.3,41.8h1M197.3,41.8h1M198.3,41.8h1M205.3,41.8h1M208.3,41.8h1M213.3,41.8h1M221.3,41.8h1M222.3,41.8h1M223.3,41.8h1M228.3,41.8h1M230.3,41.8h1M237.3,41.8h1M240.3,41.8h1M241.3,41.8h1M244.3,41.8h1M252.3,41.8h1M257.3,41.8h1M258.3,41.8h1M151.3,42.8h1M153.3,42.8h1M155.3,42.8h1M157.3,42.8h1M159.3,42.8h1M164.3,42.8h1M171.3,42.8h1M173.3,42.8h1M176.3,42.8h1M180.3,42.8h1M183.3,42.8h1M186.3,42.8h1M191.3,42.8h1M193.3,42.8h1M194.3,42.8h1M195.3,42.8h1M198.3,42.8h1M200.3,42.8h1M205.3,42.8h1M212.3,42.8h1M215.3,42.8h1M218.3,42.8h1M220.3,42.8h1M223.3,42.8h1M232.3,42.8h1M239.3,42.8h1M242.3,42.8h1M246.3,42.8h1M253.3,42.8h1M258.3,42.8h1M260.3,42.8h1M153.3,43.8h1M154.3,43.8h1M155.3,43.8h1M161.3,43.8h1M173.3,43.8h1M174.3,43.8h1M175.3,43.8h1M176.3,43.8h1M178.3,43.8h1M181.3,43.8h1M184.3,43.8h1M186.3,43.8h1M188.3,43.8h1M189.3,43.8h1M192.3,43.8h1M194.3,43.8h1M198.3,43.8h1M200.3,43.8h1M203.3,43.8h1M206.3,43.8h1M213.3,43.8h1M215.3,43.8h1M220.3,43.8h1M223.3,43.8h1M226.3,43.8h1M228.3,43.8h1M229.3,43.8h1M230.3,43.8h1M231.3,43.8h1M232.3,43.8h1M234.3,43.8h1M238.3,43.8h1M243.3,43.8h1M245.3,43.8h1M249.3,43.8h1M252.3,43.8h1M253.3,43.8h1M255.3,43.8h1M258.3,43.8h1M152.3,44.8h1M155.3,44.8h1M158.3,44.8h1M163.3,44.8h1M171.3,44.8h1M172.3,44.8h1M173.3,44.8h1M183.3,44.8h1M190.3,44.8h1M191.3,44.8h1M192.3,44.8h1M196.3,44.8h1M197.3,44.8h1M198.3,44.8h1M200.3,44.8h1M217.3,44.8h1M224.3,44.8h1M227.3,44.8h1M231.3,44.8h1M234.3,44.8h1M244.3,44.8h1M254.3,44.8h1M258.3,44.8h1M260.3,44.8h1" stroke="#101418" stroke-width="1" fill="none"/>
<path d="M149.3,25.8h1M163.3,25.8h1M166.3,25.8h1M171.3,25.8h1M177.3,25.8h1M180.3,25.8h1M181.3,25.8h1M184.3,25.8h1M191.3,25.8h1M192.3,25.8h1M195.3,25.8h1M199.3,25.8h1M204.3,25.8h1M218.3,25.8h1M225.3,25.8h1M239.3,25.8h1M241.3,25.8h1M244.3,25.8h1M246.3,25.8h1M247.3,25.8h1M248.3,25.8h1M250.3,25.8h1M251.3,25.8h1M256.3,25.8h1M150.3,26.8h1M157.3,26.8h1M160.3,26.8h1M161.3,26.8h1M162.3,26.8h1M165.3,26.8h1M166.3,26.8h1M167.3,26.8h1M171.3,26.8h1M172.3,26.8h1M175.3,26.8h1M182.3,26.8h1M188.3,26.8h1M194.3,26.8h1M199.3,26.8h1M202.3,26.8h1M207.3,26.8h1M208.3,26.8h1M211.3,26.8h1M216.3,26.8h1M231.3,26.8h1M232.3,26.8h1M237.3,26.8h1M238.3,26.8h1M243.3,26.8h1M247.3,26.8h1M248.3,26.8h1M255.3,26.8h1M154.3,27.8h1M155.3,27.8h1M157.3,27.8h1M162.3,27.8h1M165.3,27.8h1M170.3,27.8h1M171.3,27.8h1M181.3,27.8h1M182.3,27.8h1M200.3,27.8h1M211.3,27.8h1M216.3,27.8h1M222.3,27.8h1M247.3,27.8h1M250.3,27.8h1M257.3,27.8h1M153.3,28.8h1M154.3,28.8h1M155.3,28.8h1M163.3,28.8h1M182.3,28.8h1M196.3,28.8h1M197.3,28.8h1M205.3,28.8h1M210.3,28.8h1M223.3,28.8h1M228.3,28.8h1M157.3,29.8h1M163.3,29.8h1M183.3,29.8h1M184.3,29.8h1M202.3,29.8h1M206.3,29.8h1M221.3,29.8h1M222.3,29.8h1M229.3,29.8h1M241.3,29.8h1M243.3,29.8h1M248.3,29.8h1M251.3,29.8h1M260.3,29.8h1M151.3,30.8h1M169.3,30.8h1M171.3,30.8h1M172.3,30.8h1M173.3,30.8h1M202.3,30.8h1M212.3,30.8h1M236.3,30.8h1M243.3,30.8h1M244.3,30.8h1M246.3,30.8h1M155.3,31.8h1M168.3,31.8h1M173.3,31.8h1M174.3,31.8h1M202.3,31.8h1M225.3,31.8h1M226.3,31.8h1M228.3,31.8h1M243.3,31.8h1M245.3,31.8h1M248.3,31.8h1M156.3,32.8h1M166.3,32.8h1M167.3,32.8h1M168.3,32.8h1M174.3,32.8h1M176.3,32.8h1M180.3,32.8h1M184.3,32.8h1M185.3,32.8h1M187.3,32.8h1M189.3,32.8h1M205.3,32.8h1M207.3,32.8h1M216.3,32.8h1M225.3,32.8h1M232.3,32.8h1M239.3,32.8h1M242.3,32.8h1M243.3,32.8h1M257.3,32.8h1M261.3,32.8h1M155.3,33.8h1M179.3,33.8h1M190.3,33.8h1M195.3,33.8h1M205.3,33.8h1M229.3,33.8h1M233.3,33.8h1M237.3,33.8h1M245.3,33.8h1M246.3,33.8h1M248.3,33.8h1M250.3,33.8h1M260.3,33.8h1M153.3,34.8h1M154.3,34.8h1M162.3,34.8h1M167.3,34.8h1M178.3,34.8h1M182.3,34.8h1M228.3,34.8h1M230.3,34.8h1M242.3,34.8h1M261.3,34.8h1M152.3,35.8h1M157.3,35.8h1M171.3,35.8h1M177.3,35.8h1M181.3,35.8h1M188.3,35.8h1M193.3,35.8h1M197.3,35.8h1M207.3,35.8h1M217.3,35.8h1M221.3,35.8h1M228.3,35.8h1M230.3,35.8h1M243.3,35.8h1M247.3,35.8h1M151.3,36.8h1M156.3,36.8h1M159.3,36.8h1M163.3,36.8h1M171.3,36.8h1M173.3,36.8h1M174.3,36.8h1M203.3,36.8h1M207.3,36.8h1M208.3,36.8h1M210.3,36.8h1M229.3,36.8h1M230.3,36.8h1M235.3,36.8h1M244.3,36.8h1M248.3,36.8h1M249.3,36.8h1M252.3,36.8h1M259.3,36.8h1M149.3,37.8h1M163.3,37.8h1M173.3,37.8h1M176.3,37.8h1M178.3,37.8h1M184.3,37.8h1M188.3,37.8h1M193.3,37.8h1M194.3,37.8h1M196.3,37.8h1M200.3,37.8h1M204.3,37.8h1M223.3,37.8h1M230.3,37.8h1M233.3,37.8h1M239.3,37.8h1M243.3,37.8h1M257.3,37.8h1M259.3,37.8h1M150.3,38.8h1M153.3,38.8h1M166.3,38.8h1M185.3,38.8h1M196.3,38.8h1M199.3,38.8h1M228.3,38.8h1M230.3,38.8h1M238.3,38.8h1M242.3,38.8h1M251.3,38.8h1M158.3,39.8h1M178.3,39.8h1M189.3,39.8h1M190.3,39.8h1M195.3,39.8h1M199.3,39.8h1M200.3,39.8h1M202.3,39.8h1M203.3,39.8h1M206.3,39.8h1M218.3,39.8h1M228.3,39.8h1M243.3,39.8h1M246.3,39.8h1M251.3,39.8h1M252.3,39.8h1M255.3,39.8h1M259.3,39.8h1M151.3,40.8h1M166.3,40.8h1M168.3,40.8h1M187.3,40.8h1M189.3,40.8h1M191.3,40.8h1M200.3,40.8h1M203.3,40.8h1M205.3,40.8h1M207.3,40.8h1M208.3,40.8h1M214.3,40.8h1M221.3,40.8h1M233.3,40.8h1M239.3,40.8h1M247.3,40.8h1M257.3,40.8h1M261.3,40.8h1M150.3,41.8h1M161.3,41.8h1M173.3,41.8h1M175.3,41.8h1M195.3,41.8h1M199.3,41.8h1M206.3,41.8h1M214.3,41.8h1M227.3,41.8h1M229.3,41.8h1M232.3,41.8h1M239.3,41.8h1M243.3,41.8h1M245.3,41.8h1M249.3,41.8h1M170.3,42.8h1M174.3,42.8h1M178.3,42.8h1M179.3,42.8h1M190.3,42.8h1M197.3,42.8h1M207.3,42.8h1M208.3,42.8h1M213.3,42.8h1M219.3,42.8h1M224.3,42.8h1M230.3,42.8h1M231.3,42.8h1M240.3,42.8h1M245.3,42.8h1M150.3,43.8h1M160.3,43.8h1M162.3,43.8h1M169.3,43.8h1M177.3,43.8h1M193.3,43.8h1M196.3,43.8h1M197.3,43.8h1M205.3,43.8h1M209.3,43.8h1M222.3,43.8h1M240.3,43.8h1M241.3,43.8h1M250.3,43.8h1M251.3,43.8h1M259.3,43.8h1M157.3,44.8h1M161.3,44.8h1M162.3,44.8h1M174.3,44.8h1M181.3,44.8h1M184.3,44.8h1M201.3,44.8h1M210.3,44.8h1M219.3,44.8h1M235.3,44.8h1M240.3,44.8h1M243.3,44.8h1" stroke="#404850" stroke-width="1" fill="none"/>
<path d="M159.3,25.8h1M172.3,25.8h1M196.3,25.8h1M203.3,25.8h1M216.3,25.8h1M219.3,25.8h1M223.3,25.8h1M224.3,25.8h1M226.3,25.8h1M232.3,25.8h1M261.3,25.8h1M149.3,26.8h1M169.3,26.8h1M179.3,26.8h1M184.3,26.8h1M191.3,26.8h1M201.3,26.8h1M203.3,26.8h1M204.3,26.8h1M205.3,26.8h1M213.3,26.8h1M220.3,26.8h1M225.3,26.8h1M241.3,26.8h1M261.3,26.8h1M151.3,27.8h1M161.3,27.8h1M163.3,27.8h1M174.3,27.8h1M183.3,27.8h1M187.3,27.8h1M188.3,27.8h1M192.3,27.8h1M197.3,27.8h1M218.3,27.8h1M232.3,27.8h1M233.3,27.8h1M235.3,27.8h1M245.3,27.8h1M246.3,27.8h1M150.3,28.8h1M151.3,28.8h1M165.3,28.8h1M168.3,28.8h1M169.3,28.8h1M189.3,28.8h1M200.3,28.8h1M211.3,28.8h1M214.3,28.8h1M217.3,28.8h1M229.3,28.8h1M236.3,28.8h1M241.3,28.8h1M246.3,28.8h1M247.3,28.8h1M250.3,28.8h1M256.3,28.8h1M257.3,28.8h1M150.3,29.8h1M151.3,29.8h1M162.3,29.8h1M185.3,29.8h1M189.3,29.8h1M195.3,29.8h1M210.3,29.8h1M213.3,29.8h1M249.3,29.8h1M253.3,29.8h1M160.3,30.8h1M166.3,30.8h1M176.3,30.8h1M182.3,30.8h1M183.3,30.8h1M184.3,30.8h1M206.3,30.8h1M224.3,30.8h1M154.3,31.8h1M169.3,31.8h1M209.3,31.8h1M169.3,32.8h1M208.3,32.8h1M221.3,32.8h1M223.3,32.8h1M244.3,32.8h1M249.3,32.8h1M160.3,33.8h1M161.3,33.8h1M166.3,33.8h1M171.3,33.8h1M176.3,33.8h1M185.3,33.8h1M186.3,33.8h1M202.3,33.8h1M215.3,33.8h1M243.3,33.8h1M244.3,33.8h1M152.3,34.8h1M168.3,34.8h1M200.3,34.8h1M205.3,34.8h1M208.3,34.8h1M244.3,34.8h1M245.3,34.8h1M247.3,34.8h1M154.3,35.8h1M167.3,35.8h1M169.3,35.8h1M224.3,35.8h1M252.3,35.8h1M261.3,35.8h1M150.3,36.8h1M161.3,36.8h1M168.3,36.8h1M169.3,36.8h1M170.3,36.8h1M172.3,36.8h1M188.3,36.8h1M199.3,36.8h1M228.3,36.8h1M242.3,36.8h1M250.3,36.8h1M170.3,37.8h1M187.3,37.8h1M198.3,37.8h1M155.3,38.8h1M160.3,38.8h1M183.3,38.8h1M186.3,38.8h1M188.3,38.8h1M189.3,38.8h1M198.3,38.8h1M205.3,38.8h1M206.3,38.8h1M227.3,38.8h1M231.3,38.8h1M150.3,39.8h1M157.3,39.8h1M171.3,39.8h1M173.3,39.8h1M205.3,39.8h1M207.3,39.8h1M229.3,39.8h1M230.3,39.8h1M231.3,39.8h1M236.3,39.8h1M239.3,39.8h1M242.3,39.8h1M149.3,40.8h1M169.3,40.8h1M173.3,40.8h1M175.3,40.8h1M179.3,40.8h1M193.3,40.8h1M198.3,40.8h1M201.3,40.8h1M219.3,40.8h1M158.3,41.8h1M190.3,41.8h1M191.3,41.8h1M207.3,41.8h1M215.3,41.8h1M234.3,41.8h1M150.3,42.8h1M189.3,42.8h1M192.3,42.8h1M233.3,42.8h1M241.3,42.8h1M249.3,42.8h1M257.3,42.8h1M158.3,43.8h1M163.3,43.8h1M170.3,43.8h1M190.3,43.8h1M191.3,43.8h1M199.3,43.8h1M210.3,43.8h1M216.3,43.8h1M224.3,43.8h1M242.3,43.8h1M260.3,43.8h1M167.3,44.8h1M170.3,44.8h1M175.3,44.8h1M176.3,44.8h1M188.3,44.8h1M206.3,44.8h1M211.3,44.8h1M218.3,44.8h1M230.3,44.8h1M239.3,44.8h1M242.3,44.8h1M251.3,44.8h1M259.3,44.8h1" stroke="#7c848c" stroke-width="1" fill="none"/>
<clipPath id="ci"><rect x="149.3" y="10" width="113.7" height="60"/></clipPath>
<path d="M147.3,25.6 L147.3,19.0 L149.3,15.0 L154.3,16.0 L156.1,19.2 L158.0,15.1 L165.5,16.5 L167.5,19.7 L169.1,14.8 L174.3,16.2 L175.7,18.1 L177.4,15.9 L184.6,15.3 L186.7,18.3 L188.2,14.9 L196.6,15.8 L198.2,18.1 L199.7,14.8 L206.1,15.2 L207.6,18.2 L209.2,15.5 L215.8,15.6 L217.8,18.7 L219.3,15.8 L228.7,14.9 L230.1,19.2 L232.2,15.4 L236.8,15.5 L238.4,19.2 L240.0,14.9 L246.0,15.7 L248.0,19.5 L249.9,15.3 L254.2,16.4 L256.0,18.7 L257.6,15.7 L264.0,16.1 L265.0,25.6Z" fill="#e8c80c" stroke="#8f8f80" stroke-width="0.6" clip-path="url(#ci)"/>
<path d="M147.3,19.0 L148.6,25.4 M156.1,19.2 L155.0,25.4 M167.5,19.7 L167.1,25.4 M175.7,18.1 L176.8,25.4 M186.7,18.3 L187.6,25.4 M198.2,18.1 L198.5,25.4 M207.6,18.2 L208.1,25.4 M217.8,18.7 L217.4,25.4 M230.1,19.2 L231.4,25.4 M238.4,19.2 L238.6,25.4 M248.0,19.5 L247.7,25.4 M256.0,18.7 L255.1,25.4 " stroke="#8f8f80" stroke-width="0.7" fill="none" clip-path="url(#ci)"/>
<path d="M149.3,17 V65.3 H263.0 V17" fill="none" stroke="#505458" stroke-width="1"/>
<text transform="translate(171.04,59.50) scale(1.0153,1)" font-size="13" fill="#7e98aa" font-weight="bold" >substrate</text>
<text transform="translate(134.19,30.40) scale(1.0228,1)" font-size="9.6" fill="#000" >Pt</text>
<text transform="translate(134.29,43.40) scale(0.8826,1)" font-size="9.8" fill="#000" >Fe</text>
<clipPath id="cb"><rect x="322.5" y="6.2" width="193.1" height="166.2"/></clipPath>
<path d="M322.5,156.2 L331.7,156.2 L332.6,65.4 L376.0,65.4 L377.8,125.1 L436.6,125.1 L437.0,30.2 L500.2,30.2 L501.6,127.2 L520.0,127.2" stroke="#000000" stroke-width="2" fill="none" clip-path="url(#cb)" stroke-linejoin="miter"/>
<path d="M322.5,156.2 L331.7,156.2 L333.0,69.9 L368.6,69.9 L372.1,127.2 L375.6,104.4 L435.7,104.4 L438.8,30.2 L503.3,30.2 L505.1,127.2 L520.0,127.2" stroke="#d0101a" stroke-width="2" fill="none" clip-path="url(#cb)" stroke-linejoin="miter"/>
<path d="M322.5,156.2 L330.8,156.2 L332.6,69.9 L369.0,69.9 L372.5,127.2 L376.0,104.4 L451.5,104.4 L454.2,30.2 L506.8,30.2 L508.1,127.2 L520.0,127.2" stroke="#d030e0" stroke-width="2" fill="none" clip-path="url(#cb)" stroke-linejoin="miter"/>
<path d="M322.5,156.2 L331.7,156.2 L333.0,69.9 L369.9,69.9 L373.4,127.2 L376.5,104.4 L443.6,104.4 L446.3,30.2 L505.1,30.2 L506.4,127.2 L520.0,127.2" stroke="#1414c8" stroke-width="2" fill="none" clip-path="url(#cb)" stroke-linejoin="miter"/>
<path d="M322.5,156.2 L331.7,156.2 L333.0,69.9 L379.6,69.9 L383.1,127.2 L387.9,104.4 L453.3,104.4 L455.0,30.2 L510.8,30.2 L512.1,127.2 L520.0,127.2" stroke="#20c020" stroke-width="2" fill="none" clip-path="url(#cb)" stroke-linejoin="miter"/>
<path d="M322.5,156.2 L331.7,156.2 L333.0,69.9 L376.9,69.9 L380.0,127.2 L383.5,104.4 L454.2,104.4 L455.9,30.2 L506.4,30.2 L507.7,127.2 L520.0,127.2" stroke="#e07a1a" stroke-width="2" fill="none" clip-path="url(#cb)" stroke-linejoin="miter"/>
<rect x="322.5" y="6.2" width="193.1" height="166.2" fill="none" stroke="#5c6064" stroke-width="1.3"/>
<path d="M331.3,172.4v3M331.3,6.2v3M353.2,172.4v2M353.2,6.2v2M375.2,172.4v3M375.2,6.2v3M397.1,172.4v2M397.1,6.2v2M419.0,172.4v3M419.0,6.2v3M441.0,172.4v2M441.0,6.2v2M462.9,172.4v3M462.9,6.2v3M484.9,172.4v2M484.9,6.2v2M506.8,172.4v3M506.8,6.2v3M322.5,156.2h-3M515.6,156.2h-3M322.5,141.2h-1.5M515.6,141.2h-1.5M322.5,126.2h-3M515.6,126.2h-3M322.5,111.2h-1.5M515.6,111.2h-1.5M322.5,96.2h-3M515.6,96.2h-3M322.5,81.2h-1.5M515.6,81.2h-1.5M322.5,66.2h-3M515.6,66.2h-3M322.5,51.2h-1.5M515.6,51.2h-1.5M322.5,36.2h-3M515.6,36.2h-3M322.5,21.2h-1.5M515.6,21.2h-1.5M322.5,6.2h-3M515.6,6.2h-3" stroke="#5c6064" stroke-width="1" fill="none"/>
<text transform="translate(311.31,160.10) scale(1.0000,1)" font-size="11.4" fill="#000" >0</text>
<text transform="translate(311.43,130.10) scale(1.0000,1)" font-size="11.4" fill="#000" >2</text>
<text transform="translate(311.19,100.10) scale(1.0000,1)" font-size="11.4" fill="#000" >4</text>
<text transform="translate(311.36,70.10) scale(1.0000,1)" font-size="11.4" fill="#000" >6</text>
<text transform="translate(311.36,40.10) scale(1.0000,1)" font-size="11.4" fill="#000" >8</text>
<text transform="translate(304.97,10.10) scale(1.0000,1)" font-size="11.4" fill="#000" >10</text>
<text transform="translate(328.11,186.80) scale(1.0000,1)" font-size="11.4" fill="#000" >0</text>
<text transform="translate(372.00,186.80) scale(1.0000,1)" font-size="11.4" fill="#000" >5</text>
<text transform="translate(412.50,186.80) scale(1.0000,1)" font-size="11.4" fill="#000" >10</text>
<text transform="translate(456.40,186.80) scale(1.0000,1)" font-size="11.4" fill="#000" >15</text>
<text transform="translate(500.41,186.80) scale(1.0000,1)" font-size="11.4" fill="#000" >20</text>
<text transform="translate(379.92,201.70) scale(1.0689,1)" font-size="11.3" fill="#000" >thickness (nm)</text>
<text transform="translate(302.4,87.6) rotate(-90) scale(0.919,1)" font-size="12.9" text-anchor="middle">SLD (10<tspan dy="-5" font-size="8">-6</tspan><tspan dy="5">Å</tspan><tspan dy="-5" font-size="8">-2</tspan><tspan dy="5">)</tspan></text>
<text transform="translate(331.14,34.70) scale(1.0376,1)" font-size="16.5" fill="#000" >(b)</text>
<path d="M458.2,70.2H486.6" stroke="#000000" stroke-width="2"/>
<text transform="translate(489.41,74.10) scale(1.0000,1)" font-size="12.7" fill="#000000" >t</text>
<text transform="translate(492.50,78.30) scale(1.0000,1)" font-size="7.6" fill="#000000" >0</text>
<path d="M458.2,88.6H486.6" stroke="#d0101a" stroke-width="2"/>
<text transform="translate(489.41,92.47) scale(1.0000,1)" font-size="12.7" fill="#d0101a" >t</text>
<text transform="translate(492.50,96.67) scale(1.0000,1)" font-size="7.6" fill="#d0101a" >5</text>
<path d="M458.2,106.9H486.6" stroke="#1414c8" stroke-width="2"/>
<text transform="translate(489.41,110.84) scale(1.0000,1)" font-size="12.7" fill="#1414c8" >t</text>
<text transform="translate(492.51,115.04) scale(1.0000,1)" font-size="7.6" fill="#1414c8" >30</text>
<path d="M458.2,125.3H486.6" stroke="#d030e0" stroke-width="2"/>
<text transform="translate(489.41,129.21) scale(1.0000,1)" font-size="12.7" fill="#d030e0" >t</text>
<text transform="translate(492.22,133.41) scale(1.0000,1)" font-size="7.6" fill="#d030e0" >150</text>
<path d="M458.2,143.7H486.6" stroke="#20c020" stroke-width="2"/>
<text transform="translate(489.41,147.58) scale(1.0000,1)" font-size="12.7" fill="#20c020" >t</text>
<text transform="translate(492.63,151.78) scale(1.0000,1)" font-size="7.6" fill="#20c020" >400</text>
<path d="M458.2,162.1H486.6" stroke="#e07a1a" stroke-width="2"/>
<text transform="translate(489.41,165.95) scale(1.0000,1)" font-size="12.7" fill="#e07a1a" >t</text>
<text transform="translate(492.51,170.15) scale(1.0000,1)" font-size="7.6" fill="#e07a1a" >3000</text>
<path d="M343.1,219.9h2.4M347.5,243.7h2.4M351.3,259.4h2.4M356.1,283.2h2.4M359.9,288.0h2.4M364.0,299.3h2.4M368.1,301.1h2.4M372.7,303.8h2.4M376.3,310.4h2.4M380.2,310.4h2.4M384.2,308.2h2.4M388.4,307.7h2.4M393.1,305.9h2.4M396.3,305.4h2.4M397.8,307.7h2.4M400.4,305.9h2.4M401.7,306.4h2.4M404.9,311.8h2.4M404.9,307.7h2.4M408.4,305.4h2.4M408.4,308.0h2.4M412.8,308.6h2.4M416.9,311.1h2.4M420.8,308.9h2.4M425.9,312.6h2.4M428.8,313.9h2.4M432.8,315.0h2.4M437.4,317.1h2.4M453.8,319.3h2.4" stroke="#e07818" stroke-width="2.4"/>
<path d="M347.8,226.2h2.4M352.0,245.3h2.4M355.8,259.6h2.4M359.9,269.6h2.4M364.0,274.6h2.4M368.1,281.8h2.4M372.7,289.8h2.4M376.3,287.1h2.4M380.2,288.4h2.4M384.2,287.1h2.4M388.1,283.9h2.4M393.1,283.6h2.4M396.8,285.0h2.4M400.8,292.1h2.4M404.9,285.9h2.4M408.8,289.6h2.4M412.8,288.0h2.4M416.9,292.6h2.4M420.8,296.4h2.4M425.9,299.3h2.4M428.8,303.9h2.4M432.8,305.4h2.4M437.7,307.4h2.4M441.4,306.9h2.4M445.7,311.4h2.4M449.5,316.0h2.4M457.7,319.3h2.4" stroke="#1414c8" stroke-width="2.4"/>
<path d="M355.8,226.7h2.4M359.9,231.6h2.4M364.0,235.7h2.4M368.5,242.7h2.4M371.9,248.6h2.4M376.4,242.3h2.4M379.7,250.3h2.4M384.7,244.1h2.4M388.5,246.5h2.4M392.6,251.9h2.4M396.7,249.1h2.4M400.8,251.4h2.4M405.3,246.5h2.4M408.9,250.3h2.4M412.9,256.2h2.4M417.0,261.3h2.4M421.1,262.2h2.4M425.0,267.4h2.4M429.4,269.1h2.4M433.2,278.1h2.4M437.5,278.2h2.4M441.7,288.9h2.4M445.8,291.0h2.4M449.8,295.2h2.4M454.0,296.8h2.4M458.0,306.8h2.4M461.6,310.7h2.4M465.8,313.8h2.4M470.1,318.1h2.4M474.2,317.3h2.4" stroke="#000" stroke-width="2.4"/>
<rect x="338.0" y="209.3" width="172.3" height="109.9" fill="none" stroke="#5c6064" stroke-width="1.3"/>
<path d="M338.0,319.2v3M355.2,319.2v2M372.5,319.2v3M372.5,209.3v3M389.7,319.2v2M406.9,319.2v3M406.9,209.3v3M424.2,319.2v2M441.4,319.2v3M441.4,209.3v3M458.6,319.2v2M475.8,319.2v3M475.8,209.3v3M493.1,319.2v2M510.3,319.2v3M338.0,294.8h-3.5M338.0,258.1h-3.5M338.0,221.5h-3.5" stroke="#5c6064" stroke-width="1" fill="none"/>
<text transform="translate(316.45,298.58) scale(1.0000,1)" font-size="12.0" fill="#000" >0.3</text>
<text transform="translate(316.45,261.95) scale(1.0000,1)" font-size="12.0" fill="#000" >0.6</text>
<text transform="translate(316.49,225.32) scale(1.0000,1)" font-size="12.0" fill="#000" >0.9</text>
<text transform="translate(329.04,332.70) scale(1.0957,1)" font-size="11.8" fill="#000" >0.3</text>
<text transform="translate(363.51,332.70) scale(1.0835,1)" font-size="11.8" fill="#000" >0.4</text>
<text transform="translate(397.97,332.70) scale(1.0941,1)" font-size="11.8" fill="#000" >0.5</text>
<text transform="translate(432.42,332.70) scale(1.0957,1)" font-size="11.8" fill="#000" >0.6</text>
<text transform="translate(466.88,332.70) scale(1.1010,1)" font-size="11.8" fill="#000" >0.7</text>
<text transform="translate(501.35,332.70) scale(1.0953,1)" font-size="11.8" fill="#000" >0.8</text>
<text transform="translate(308.20,313.39) rotate(-90) scale(1.0424,1)" font-size="14.4" fill="#000">Intensity (arb. units)</text>
<text transform="translate(486.76,234.20) scale(1.0474,1)" font-size="17.5" fill="#000" >(c)</text>
<text transform="translate(414.47,242.00) scale(1.0000,1)" font-size="15.3" fill="#000" >t</text>
<text transform="translate(417.75,248.50) scale(1.1506,1)" font-size="10" fill="#000" >0</text>
<text transform="translate(447.48,274.30) scale(1.0000,1)" font-size="14.7" fill="#1414c8" >t</text>
<text transform="translate(451.42,280.50) scale(1.1307,1)" font-size="8.8" fill="#1414c8" >30</text>
<text transform="translate(477.07,307.00) scale(1.0000,1)" font-size="15.5" fill="#e07818" >t</text>
<text transform="translate(480.63,312.60) scale(0.9686,1)" font-size="10" fill="#e07818" >3000</text>
<text transform="translate(394.84,356.40) scale(1.1353,1)" font-size="16" fill="#000" >Q</text>
<text transform="translate(407.72,361.30) scale(1.0679,1)" font-size="11.2" fill="#000" >z</text>
<text transform="translate(416.47,356.20) scale(0.9631,1)" font-size="15.5" fill="#000" >(nm</text>
<text transform="translate(441.94,348.90) scale(1.0470,1)" font-size="7.8" fill="#000" >-1</text>
<text transform="translate(450.20,356.20) scale(1.0463,1)" font-size="15.5" fill="#000" >)</text>
</svg></body></html>
